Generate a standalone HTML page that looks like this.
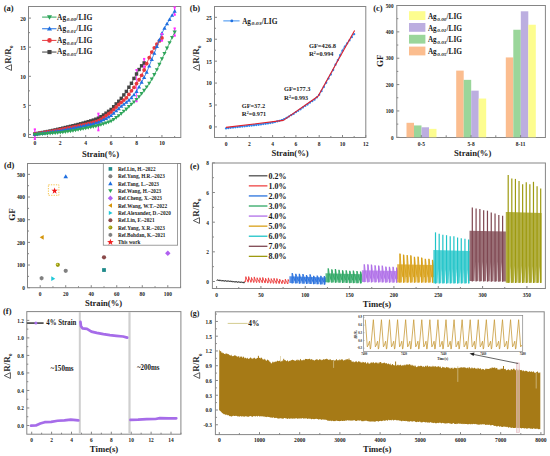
<!DOCTYPE html>
<html><head><meta charset="utf-8"><style>
html,body{margin:0;padding:0;background:#fff;}
svg{display:block;font-family:"Liberation Serif", serif;}
</style></head><body>
<svg xmlns="http://www.w3.org/2000/svg" width="550" height="456" viewBox="0 0 550 456">
<rect x="0" y="0" width="550" height="456" fill="#ffffff"/>
<rect x="28.5" y="6.5" width="152.3" height="131" fill="none" stroke="#858585" stroke-width="1" />
<line x1="28.5" y1="134.5" x2="31" y2="134.5" stroke="#858585" stroke-width="1" />
<text x="25.9" y="136.9" font-size="5.6" text-anchor="end" fill="#1a1a1a" font-weight="bold" >0</text>
<line x1="28.5" y1="105.4" x2="31" y2="105.4" stroke="#858585" stroke-width="1" />
<text x="25.9" y="107.8" font-size="5.6" text-anchor="end" fill="#1a1a1a" font-weight="bold" >5</text>
<line x1="28.5" y1="76.3" x2="31" y2="76.3" stroke="#858585" stroke-width="1" />
<text x="25.9" y="78.7" font-size="5.6" text-anchor="end" fill="#1a1a1a" font-weight="bold" >10</text>
<line x1="28.5" y1="47.2" x2="31" y2="47.2" stroke="#858585" stroke-width="1" />
<text x="25.9" y="49.6" font-size="5.6" text-anchor="end" fill="#1a1a1a" font-weight="bold" >15</text>
<line x1="28.5" y1="18.1" x2="31" y2="18.1" stroke="#858585" stroke-width="1" />
<text x="25.9" y="20.5" font-size="5.6" text-anchor="end" fill="#1a1a1a" font-weight="bold" >20</text>
<line x1="28.5" y1="119.95" x2="30" y2="119.95" stroke="#858585" stroke-width="1" />
<line x1="28.5" y1="90.85" x2="30" y2="90.85" stroke="#858585" stroke-width="1" />
<line x1="28.5" y1="61.75" x2="30" y2="61.75" stroke="#858585" stroke-width="1" />
<line x1="28.5" y1="32.65" x2="30" y2="32.65" stroke="#858585" stroke-width="1" />
<line x1="34.85" y1="137.5" x2="34.85" y2="135" stroke="#858585" stroke-width="1" />
<text x="34.85" y="145.2" font-size="5.6" text-anchor="middle" fill="#1a1a1a" font-weight="bold" >0</text>
<line x1="60.27" y1="137.5" x2="60.27" y2="135" stroke="#858585" stroke-width="1" />
<text x="60.27" y="145.2" font-size="5.6" text-anchor="middle" fill="#1a1a1a" font-weight="bold" >2</text>
<line x1="85.69" y1="137.5" x2="85.69" y2="135" stroke="#858585" stroke-width="1" />
<text x="85.69" y="145.2" font-size="5.6" text-anchor="middle" fill="#1a1a1a" font-weight="bold" >4</text>
<line x1="111.11" y1="137.5" x2="111.11" y2="135" stroke="#858585" stroke-width="1" />
<text x="111.11" y="145.2" font-size="5.6" text-anchor="middle" fill="#1a1a1a" font-weight="bold" >6</text>
<line x1="136.53" y1="137.5" x2="136.53" y2="135" stroke="#858585" stroke-width="1" />
<text x="136.53" y="145.2" font-size="5.6" text-anchor="middle" fill="#1a1a1a" font-weight="bold" >8</text>
<line x1="161.95" y1="137.5" x2="161.95" y2="135" stroke="#858585" stroke-width="1" />
<text x="161.95" y="145.2" font-size="5.6" text-anchor="middle" fill="#1a1a1a" font-weight="bold" >10</text>
<line x1="47.56" y1="137.5" x2="47.56" y2="136" stroke="#858585" stroke-width="1" />
<line x1="72.98" y1="137.5" x2="72.98" y2="136" stroke="#858585" stroke-width="1" />
<line x1="98.4" y1="137.5" x2="98.4" y2="136" stroke="#858585" stroke-width="1" />
<line x1="123.82" y1="137.5" x2="123.82" y2="136" stroke="#858585" stroke-width="1" />
<line x1="149.24" y1="137.5" x2="149.24" y2="136" stroke="#858585" stroke-width="1" />
<line x1="174.66" y1="137.5" x2="174.66" y2="136" stroke="#858585" stroke-width="1" />
<text x="3.7" y="10.8" font-size="8.5" text-anchor="start" fill="#1a1a1a" font-weight="bold" >(a)</text>
<g transform="translate(11,58) rotate(-90)"><polygon points="-12.45,0.5 -6.65,0.5 -9.55,-5.6" fill="none" stroke="#333" stroke-width="0.8"/><text x="-5.65" y="0" font-size="7.9" font-weight="bold" fill="#1a1a1a" textLength="15.4" lengthAdjust="spacingAndGlyphs">R/R</text><text x="9.95" y="2.3" font-size="4.9" font-weight="bold" fill="#1a1a1a">0</text></g>
<text x="100.5" y="157.2" font-size="8.6" text-anchor="middle" fill="#1a1a1a" font-weight="bold" >Strain(%)</text>
<line x1="34.85" y1="139.16" x2="34.85" y2="129.26" stroke="#ff30ff" stroke-width="1.3" />
<line x1="98.4" y1="130.43" x2="98.4" y2="113.55" stroke="#ff30ff" stroke-width="1.3" />
<line x1="136.53" y1="101.33" x2="136.53" y2="69.9" stroke="#ff30ff" stroke-width="0.8" />
<line x1="144.16" y1="66.99" x2="144.16" y2="58.84" stroke="#ff30ff" stroke-width="1.3" />
<line x1="161.95" y1="40.8" x2="161.95" y2="33.81" stroke="#ff30ff" stroke-width="1.3" />
<line x1="174.66" y1="14.9" x2="174.66" y2="7.33" stroke="#ff30ff" stroke-width="1.3" />
<line x1="174.66" y1="35.85" x2="174.66" y2="28.28" stroke="#ff30ff" stroke-width="1.3" />
<path d="M34.85,133.92 L37.39,133.44 L39.93,132.97 L42.48,132.5 L45.02,132.02 L47.56,131.53 L50.1,131.01 L52.64,130.47 L55.19,129.91 L57.73,129.33 L60.27,128.74 L62.81,128.14 L65.35,127.52 L67.9,126.93 L70.44,126.34 L72.98,125.74 L75.52,125.12 L78.06,124.47 L80.61,123.8 L83.15,123.09 L85.69,122.38 L88.23,121.67 L90.77,120.92 L93.32,120.11 L95.86,119.21 L98.4,118.2 L100.94,116.69 L103.48,114.99 L106.03,113.18 L108.57,111.31 L111.11,109.47 L113.65,106.74 L116.19,103.9 L118.74,101.28 L121.28,98.35 L123.82,94.92 L126.36,91.43 L128.9,87.23 L131.45,83.28 L133.99,78.41 L136.53,73.97 L139.07,69.53 L141.61,65.82 L144.16,62.96" stroke="#444444" stroke-width="0.8" fill="none" stroke-linejoin="round" />
<rect x="33.14" y="132.21" width="3.42" height="3.42" fill="#444444" stroke="none" stroke-width="1" />
<rect x="35.68" y="131.73" width="3.42" height="3.42" fill="#444444" stroke="none" stroke-width="1" />
<rect x="38.22" y="131.26" width="3.42" height="3.42" fill="#444444" stroke="none" stroke-width="1" />
<rect x="40.77" y="130.79" width="3.42" height="3.42" fill="#444444" stroke="none" stroke-width="1" />
<rect x="43.31" y="130.31" width="3.42" height="3.42" fill="#444444" stroke="none" stroke-width="1" />
<rect x="45.85" y="129.82" width="3.42" height="3.42" fill="#444444" stroke="none" stroke-width="1" />
<rect x="48.39" y="129.3" width="3.42" height="3.42" fill="#444444" stroke="none" stroke-width="1" />
<rect x="50.93" y="128.76" width="3.42" height="3.42" fill="#444444" stroke="none" stroke-width="1" />
<rect x="53.48" y="128.2" width="3.42" height="3.42" fill="#444444" stroke="none" stroke-width="1" />
<rect x="56.02" y="127.62" width="3.42" height="3.42" fill="#444444" stroke="none" stroke-width="1" />
<rect x="58.56" y="127.03" width="3.42" height="3.42" fill="#444444" stroke="none" stroke-width="1" />
<rect x="61.1" y="126.43" width="3.42" height="3.42" fill="#444444" stroke="none" stroke-width="1" />
<rect x="63.64" y="125.81" width="3.42" height="3.42" fill="#444444" stroke="none" stroke-width="1" />
<rect x="66.19" y="125.22" width="3.42" height="3.42" fill="#444444" stroke="none" stroke-width="1" />
<rect x="68.73" y="124.63" width="3.42" height="3.42" fill="#444444" stroke="none" stroke-width="1" />
<rect x="71.27" y="124.03" width="3.42" height="3.42" fill="#444444" stroke="none" stroke-width="1" />
<rect x="73.81" y="123.41" width="3.42" height="3.42" fill="#444444" stroke="none" stroke-width="1" />
<rect x="76.35" y="122.76" width="3.42" height="3.42" fill="#444444" stroke="none" stroke-width="1" />
<rect x="78.9" y="122.09" width="3.42" height="3.42" fill="#444444" stroke="none" stroke-width="1" />
<rect x="81.44" y="121.38" width="3.42" height="3.42" fill="#444444" stroke="none" stroke-width="1" />
<rect x="83.98" y="120.67" width="3.42" height="3.42" fill="#444444" stroke="none" stroke-width="1" />
<rect x="86.52" y="119.96" width="3.42" height="3.42" fill="#444444" stroke="none" stroke-width="1" />
<rect x="89.06" y="119.21" width="3.42" height="3.42" fill="#444444" stroke="none" stroke-width="1" />
<rect x="91.61" y="118.4" width="3.42" height="3.42" fill="#444444" stroke="none" stroke-width="1" />
<rect x="94.15" y="117.5" width="3.42" height="3.42" fill="#444444" stroke="none" stroke-width="1" />
<rect x="96.69" y="116.49" width="3.42" height="3.42" fill="#444444" stroke="none" stroke-width="1" />
<rect x="99.23" y="114.98" width="3.42" height="3.42" fill="#444444" stroke="none" stroke-width="1" />
<rect x="101.77" y="113.28" width="3.42" height="3.42" fill="#444444" stroke="none" stroke-width="1" />
<rect x="104.32" y="111.47" width="3.42" height="3.42" fill="#444444" stroke="none" stroke-width="1" />
<rect x="106.86" y="109.6" width="3.42" height="3.42" fill="#444444" stroke="none" stroke-width="1" />
<rect x="109.4" y="107.76" width="3.42" height="3.42" fill="#444444" stroke="none" stroke-width="1" />
<rect x="111.94" y="105.03" width="3.42" height="3.42" fill="#444444" stroke="none" stroke-width="1" />
<rect x="114.48" y="102.19" width="3.42" height="3.42" fill="#444444" stroke="none" stroke-width="1" />
<rect x="117.03" y="99.57" width="3.42" height="3.42" fill="#444444" stroke="none" stroke-width="1" />
<rect x="119.57" y="96.64" width="3.42" height="3.42" fill="#444444" stroke="none" stroke-width="1" />
<rect x="122.11" y="93.21" width="3.42" height="3.42" fill="#444444" stroke="none" stroke-width="1" />
<rect x="124.65" y="89.72" width="3.42" height="3.42" fill="#444444" stroke="none" stroke-width="1" />
<rect x="127.19" y="85.52" width="3.42" height="3.42" fill="#444444" stroke="none" stroke-width="1" />
<rect x="129.74" y="81.57" width="3.42" height="3.42" fill="#444444" stroke="none" stroke-width="1" />
<rect x="132.28" y="76.7" width="3.42" height="3.42" fill="#444444" stroke="none" stroke-width="1" />
<rect x="134.82" y="72.26" width="3.42" height="3.42" fill="#444444" stroke="none" stroke-width="1" />
<rect x="137.36" y="67.82" width="3.42" height="3.42" fill="#444444" stroke="none" stroke-width="1" />
<rect x="139.9" y="64.11" width="3.42" height="3.42" fill="#444444" stroke="none" stroke-width="1" />
<rect x="142.45" y="61.25" width="3.42" height="3.42" fill="#444444" stroke="none" stroke-width="1" />
<path d="M34.85,133.92 L37.39,133.54 L39.93,133.16 L42.48,132.79 L45.02,132.41 L47.56,132.01 L50.1,131.59 L52.64,131.15 L55.19,130.68 L57.73,130.21 L60.27,129.71 L62.81,129.21 L65.35,128.68 L67.9,128.18 L70.44,127.68 L72.98,127.16 L75.52,126.62 L78.06,126.07 L80.61,125.49 L83.15,124.89 L85.69,124.33 L88.23,123.77 L90.77,123.18 L93.32,122.52 L95.86,121.74 L98.4,120.82 L100.94,119.35 L103.48,117.63 L106.03,115.77 L108.57,113.89 L111.11,112.09 L113.65,109.58 L116.19,107.07 L118.74,104.72 L121.28,102.34 L123.82,100.12 L126.36,97.83 L128.9,94.43 L131.45,90.85 L133.99,87.45 L136.53,83.57 L139.07,79.73 L141.61,75.3 L144.16,69.98 L146.7,63.56 L149.24,57.68 L151.78,52.11 L154.32,47.78 L156.87,44.07 L159.41,40.95 L161.95,37.89" stroke="#e8383d" stroke-width="0.8" fill="none" stroke-linejoin="round" />
<circle cx="34.85" cy="133.92" r="1.9" fill="#e8383d"/>
<circle cx="37.39" cy="133.54" r="1.9" fill="#e8383d"/>
<circle cx="39.93" cy="133.16" r="1.9" fill="#e8383d"/>
<circle cx="42.48" cy="132.79" r="1.9" fill="#e8383d"/>
<circle cx="45.02" cy="132.41" r="1.9" fill="#e8383d"/>
<circle cx="47.56" cy="132.01" r="1.9" fill="#e8383d"/>
<circle cx="50.1" cy="131.59" r="1.9" fill="#e8383d"/>
<circle cx="52.64" cy="131.15" r="1.9" fill="#e8383d"/>
<circle cx="55.19" cy="130.68" r="1.9" fill="#e8383d"/>
<circle cx="57.73" cy="130.21" r="1.9" fill="#e8383d"/>
<circle cx="60.27" cy="129.71" r="1.9" fill="#e8383d"/>
<circle cx="62.81" cy="129.21" r="1.9" fill="#e8383d"/>
<circle cx="65.35" cy="128.68" r="1.9" fill="#e8383d"/>
<circle cx="67.9" cy="128.18" r="1.9" fill="#e8383d"/>
<circle cx="70.44" cy="127.68" r="1.9" fill="#e8383d"/>
<circle cx="72.98" cy="127.16" r="1.9" fill="#e8383d"/>
<circle cx="75.52" cy="126.62" r="1.9" fill="#e8383d"/>
<circle cx="78.06" cy="126.07" r="1.9" fill="#e8383d"/>
<circle cx="80.61" cy="125.49" r="1.9" fill="#e8383d"/>
<circle cx="83.15" cy="124.89" r="1.9" fill="#e8383d"/>
<circle cx="85.69" cy="124.33" r="1.9" fill="#e8383d"/>
<circle cx="88.23" cy="123.77" r="1.9" fill="#e8383d"/>
<circle cx="90.77" cy="123.18" r="1.9" fill="#e8383d"/>
<circle cx="93.32" cy="122.52" r="1.9" fill="#e8383d"/>
<circle cx="95.86" cy="121.74" r="1.9" fill="#e8383d"/>
<circle cx="98.4" cy="120.82" r="1.9" fill="#e8383d"/>
<circle cx="100.94" cy="119.35" r="1.9" fill="#e8383d"/>
<circle cx="103.48" cy="117.63" r="1.9" fill="#e8383d"/>
<circle cx="106.03" cy="115.77" r="1.9" fill="#e8383d"/>
<circle cx="108.57" cy="113.89" r="1.9" fill="#e8383d"/>
<circle cx="111.11" cy="112.09" r="1.9" fill="#e8383d"/>
<circle cx="113.65" cy="109.58" r="1.9" fill="#e8383d"/>
<circle cx="116.19" cy="107.07" r="1.9" fill="#e8383d"/>
<circle cx="118.74" cy="104.72" r="1.9" fill="#e8383d"/>
<circle cx="121.28" cy="102.34" r="1.9" fill="#e8383d"/>
<circle cx="123.82" cy="100.12" r="1.9" fill="#e8383d"/>
<circle cx="126.36" cy="97.83" r="1.9" fill="#e8383d"/>
<circle cx="128.9" cy="94.43" r="1.9" fill="#e8383d"/>
<circle cx="131.45" cy="90.85" r="1.9" fill="#e8383d"/>
<circle cx="133.99" cy="87.45" r="1.9" fill="#e8383d"/>
<circle cx="136.53" cy="83.57" r="1.9" fill="#e8383d"/>
<circle cx="139.07" cy="79.73" r="1.9" fill="#e8383d"/>
<circle cx="141.61" cy="75.3" r="1.9" fill="#e8383d"/>
<circle cx="144.16" cy="69.98" r="1.9" fill="#e8383d"/>
<circle cx="146.7" cy="63.56" r="1.9" fill="#e8383d"/>
<circle cx="149.24" cy="57.68" r="1.9" fill="#e8383d"/>
<circle cx="151.78" cy="52.11" r="1.9" fill="#e8383d"/>
<circle cx="154.32" cy="47.78" r="1.9" fill="#e8383d"/>
<circle cx="156.87" cy="44.07" r="1.9" fill="#e8383d"/>
<circle cx="159.41" cy="40.95" r="1.9" fill="#e8383d"/>
<circle cx="161.95" cy="37.89" r="1.9" fill="#e8383d"/>
<path d="M34.85,134.21 L37.39,133.87 L39.93,133.54 L42.48,133.21 L45.02,132.87 L47.56,132.53 L50.1,132.17 L52.64,131.81 L55.19,131.46 L57.73,131.1 L60.27,130.72 L62.81,130.3 L65.35,129.84 L67.9,129.38 L70.44,128.87 L72.98,128.34 L75.52,127.79 L78.06,127.22 L80.61,126.64 L83.15,126.06 L85.69,125.51 L88.23,124.95 L90.77,124.37 L93.32,123.74 L95.86,123.05 L98.4,122.28 L100.94,121.13 L103.48,119.85 L106.03,118.47 L108.57,117.04 L111.11,115.58 L113.65,113.3 L116.19,110.85 L118.74,108.63 L121.28,106.33 L123.82,104.24 L126.36,102.34 L128.9,100.15 L131.45,97.7 L133.99,94.76 L136.53,91.43 L139.07,87.03 L141.61,82.12 L144.16,77.36 L146.7,72.33 L149.24,66.02 L151.78,59.42 L154.32,53.24 L156.87,46.6 L159.41,39.72 L161.95,33.23 L164.49,28.18 L167.03,23.77 L169.58,19.42 L172.12,15.25 L174.66,11.12" stroke="#1f6fe0" stroke-width="0.8" fill="none" stroke-linejoin="round" />
<polygon points="32.76,135.73 36.94,135.73 34.85,132.12" fill="#1f6fe0"/>
<polygon points="35.3,135.39 39.48,135.39 37.39,131.78" fill="#1f6fe0"/>
<polygon points="37.84,135.06 42.02,135.06 39.93,131.45" fill="#1f6fe0"/>
<polygon points="40.39,134.73 44.57,134.73 42.48,131.12" fill="#1f6fe0"/>
<polygon points="42.93,134.39 47.11,134.39 45.02,130.78" fill="#1f6fe0"/>
<polygon points="45.47,134.05 49.65,134.05 47.56,130.44" fill="#1f6fe0"/>
<polygon points="48.01,133.69 52.19,133.69 50.1,130.08" fill="#1f6fe0"/>
<polygon points="50.55,133.33 54.73,133.33 52.64,129.72" fill="#1f6fe0"/>
<polygon points="53.1,132.98 57.28,132.98 55.19,129.37" fill="#1f6fe0"/>
<polygon points="55.64,132.62 59.82,132.62 57.73,129.01" fill="#1f6fe0"/>
<polygon points="58.18,132.24 62.36,132.24 60.27,128.63" fill="#1f6fe0"/>
<polygon points="60.72,131.82 64.9,131.82 62.81,128.21" fill="#1f6fe0"/>
<polygon points="63.26,131.36 67.44,131.36 65.35,127.75" fill="#1f6fe0"/>
<polygon points="65.81,130.9 69.99,130.9 67.9,127.29" fill="#1f6fe0"/>
<polygon points="68.35,130.39 72.53,130.39 70.44,126.78" fill="#1f6fe0"/>
<polygon points="70.89,129.86 75.07,129.86 72.98,126.25" fill="#1f6fe0"/>
<polygon points="73.43,129.31 77.61,129.31 75.52,125.7" fill="#1f6fe0"/>
<polygon points="75.97,128.74 80.15,128.74 78.06,125.13" fill="#1f6fe0"/>
<polygon points="78.52,128.16 82.7,128.16 80.61,124.55" fill="#1f6fe0"/>
<polygon points="81.06,127.58 85.24,127.58 83.15,123.97" fill="#1f6fe0"/>
<polygon points="83.6,127.03 87.78,127.03 85.69,123.42" fill="#1f6fe0"/>
<polygon points="86.14,126.47 90.32,126.47 88.23,122.86" fill="#1f6fe0"/>
<polygon points="88.68,125.89 92.86,125.89 90.77,122.28" fill="#1f6fe0"/>
<polygon points="91.23,125.26 95.41,125.26 93.32,121.65" fill="#1f6fe0"/>
<polygon points="93.77,124.57 97.95,124.57 95.86,120.96" fill="#1f6fe0"/>
<polygon points="96.31,123.8 100.49,123.8 98.4,120.19" fill="#1f6fe0"/>
<polygon points="98.85,122.65 103.03,122.65 100.94,119.04" fill="#1f6fe0"/>
<polygon points="101.39,121.37 105.57,121.37 103.48,117.76" fill="#1f6fe0"/>
<polygon points="103.94,119.99 108.12,119.99 106.03,116.38" fill="#1f6fe0"/>
<polygon points="106.48,118.56 110.66,118.56 108.57,114.95" fill="#1f6fe0"/>
<polygon points="109.02,117.1 113.2,117.1 111.11,113.49" fill="#1f6fe0"/>
<polygon points="111.56,114.82 115.74,114.82 113.65,111.21" fill="#1f6fe0"/>
<polygon points="114.1,112.37 118.28,112.37 116.19,108.76" fill="#1f6fe0"/>
<polygon points="116.65,110.15 120.83,110.15 118.74,106.54" fill="#1f6fe0"/>
<polygon points="119.19,107.85 123.37,107.85 121.28,104.24" fill="#1f6fe0"/>
<polygon points="121.73,105.76 125.91,105.76 123.82,102.15" fill="#1f6fe0"/>
<polygon points="124.27,103.86 128.45,103.86 126.36,100.25" fill="#1f6fe0"/>
<polygon points="126.81,101.67 130.99,101.67 128.9,98.06" fill="#1f6fe0"/>
<polygon points="129.36,99.22 133.54,99.22 131.45,95.61" fill="#1f6fe0"/>
<polygon points="131.9,96.28 136.08,96.28 133.99,92.67" fill="#1f6fe0"/>
<polygon points="134.44,92.95 138.62,92.95 136.53,89.34" fill="#1f6fe0"/>
<polygon points="136.98,88.55 141.16,88.55 139.07,84.94" fill="#1f6fe0"/>
<polygon points="139.52,83.64 143.7,83.64 141.61,80.03" fill="#1f6fe0"/>
<polygon points="142.07,78.88 146.25,78.88 144.16,75.27" fill="#1f6fe0"/>
<polygon points="144.61,73.85 148.79,73.85 146.7,70.24" fill="#1f6fe0"/>
<polygon points="147.15,67.54 151.33,67.54 149.24,63.93" fill="#1f6fe0"/>
<polygon points="149.69,60.94 153.87,60.94 151.78,57.33" fill="#1f6fe0"/>
<polygon points="152.23,54.76 156.41,54.76 154.32,51.15" fill="#1f6fe0"/>
<polygon points="154.78,48.12 158.96,48.12 156.87,44.51" fill="#1f6fe0"/>
<polygon points="157.32,41.24 161.5,41.24 159.41,37.63" fill="#1f6fe0"/>
<polygon points="159.86,34.75 164.04,34.75 161.95,31.14" fill="#1f6fe0"/>
<polygon points="162.4,29.7 166.58,29.7 164.49,26.09" fill="#1f6fe0"/>
<polygon points="164.94,25.29 169.12,25.29 167.03,21.68" fill="#1f6fe0"/>
<polygon points="167.49,20.94 171.67,20.94 169.58,17.33" fill="#1f6fe0"/>
<polygon points="170.03,16.77 174.21,16.77 172.12,13.16" fill="#1f6fe0"/>
<polygon points="172.57,12.64 176.75,12.64 174.66,9.03" fill="#1f6fe0"/>
<path d="M34.85,134.5 L37.39,134.31 L39.93,134.12 L42.48,133.94 L45.02,133.75 L47.56,133.55 L50.1,133.34 L52.64,133.13 L55.19,132.93 L57.73,132.72 L60.27,132.48 L62.81,132.21 L65.35,131.88 L67.9,131.52 L70.44,131.11 L72.98,130.67 L75.52,130.2 L78.06,129.71 L80.61,129.22 L83.15,128.72 L85.69,128.22 L88.23,127.71 L90.77,127.18 L93.32,126.64 L95.86,126.07 L98.4,125.48 L100.94,124.69 L103.48,123.88 L106.03,123.03 L108.57,122.11 L111.11,121.11 L113.65,119.43 L116.19,117.55 L118.74,115.77 L121.28,113.64 L123.82,111.22 L126.36,109.04 L128.9,106.6 L131.45,104.26 L133.99,102.03 L136.53,99.58 L139.07,96.74 L141.61,93.63 L144.16,90.38 L146.7,87 L149.24,83.28 L151.78,79.14 L154.32,74.62 L156.87,69.7 L159.41,64.31 L161.95,58.84 L164.49,53.49 L167.03,48.13 L169.58,42.78 L172.12,37.42 L174.66,32.07" stroke="#2ea55a" stroke-width="0.8" fill="none" stroke-linejoin="round" />
<polygon points="32.76,132.98 36.94,132.98 34.85,136.59" fill="#2ea55a"/>
<polygon points="35.3,132.79 39.48,132.79 37.39,136.4" fill="#2ea55a"/>
<polygon points="37.84,132.6 42.02,132.6 39.93,136.21" fill="#2ea55a"/>
<polygon points="40.39,132.42 44.57,132.42 42.48,136.03" fill="#2ea55a"/>
<polygon points="42.93,132.23 47.11,132.23 45.02,135.84" fill="#2ea55a"/>
<polygon points="45.47,132.03 49.65,132.03 47.56,135.64" fill="#2ea55a"/>
<polygon points="48.01,131.82 52.19,131.82 50.1,135.43" fill="#2ea55a"/>
<polygon points="50.55,131.61 54.73,131.61 52.64,135.22" fill="#2ea55a"/>
<polygon points="53.1,131.41 57.28,131.41 55.19,135.02" fill="#2ea55a"/>
<polygon points="55.64,131.2 59.82,131.2 57.73,134.81" fill="#2ea55a"/>
<polygon points="58.18,130.96 62.36,130.96 60.27,134.57" fill="#2ea55a"/>
<polygon points="60.72,130.69 64.9,130.69 62.81,134.3" fill="#2ea55a"/>
<polygon points="63.26,130.36 67.44,130.36 65.35,133.97" fill="#2ea55a"/>
<polygon points="65.81,130 69.99,130 67.9,133.61" fill="#2ea55a"/>
<polygon points="68.35,129.59 72.53,129.59 70.44,133.2" fill="#2ea55a"/>
<polygon points="70.89,129.15 75.07,129.15 72.98,132.76" fill="#2ea55a"/>
<polygon points="73.43,128.68 77.61,128.68 75.52,132.29" fill="#2ea55a"/>
<polygon points="75.97,128.19 80.15,128.19 78.06,131.8" fill="#2ea55a"/>
<polygon points="78.52,127.7 82.7,127.7 80.61,131.31" fill="#2ea55a"/>
<polygon points="81.06,127.2 85.24,127.2 83.15,130.81" fill="#2ea55a"/>
<polygon points="83.6,126.7 87.78,126.7 85.69,130.31" fill="#2ea55a"/>
<polygon points="86.14,126.19 90.32,126.19 88.23,129.8" fill="#2ea55a"/>
<polygon points="88.68,125.66 92.86,125.66 90.77,129.27" fill="#2ea55a"/>
<polygon points="91.23,125.12 95.41,125.12 93.32,128.73" fill="#2ea55a"/>
<polygon points="93.77,124.55 97.95,124.55 95.86,128.16" fill="#2ea55a"/>
<polygon points="96.31,123.96 100.49,123.96 98.4,127.57" fill="#2ea55a"/>
<polygon points="98.85,123.17 103.03,123.17 100.94,126.78" fill="#2ea55a"/>
<polygon points="101.39,122.36 105.57,122.36 103.48,125.97" fill="#2ea55a"/>
<polygon points="103.94,121.51 108.12,121.51 106.03,125.12" fill="#2ea55a"/>
<polygon points="106.48,120.59 110.66,120.59 108.57,124.2" fill="#2ea55a"/>
<polygon points="109.02,119.59 113.2,119.59 111.11,123.2" fill="#2ea55a"/>
<polygon points="111.56,117.91 115.74,117.91 113.65,121.52" fill="#2ea55a"/>
<polygon points="114.1,116.03 118.28,116.03 116.19,119.64" fill="#2ea55a"/>
<polygon points="116.65,114.25 120.83,114.25 118.74,117.86" fill="#2ea55a"/>
<polygon points="119.19,112.12 123.37,112.12 121.28,115.73" fill="#2ea55a"/>
<polygon points="121.73,109.7 125.91,109.7 123.82,113.31" fill="#2ea55a"/>
<polygon points="124.27,107.52 128.45,107.52 126.36,111.13" fill="#2ea55a"/>
<polygon points="126.81,105.08 130.99,105.08 128.9,108.69" fill="#2ea55a"/>
<polygon points="129.36,102.74 133.54,102.74 131.45,106.35" fill="#2ea55a"/>
<polygon points="131.9,100.51 136.08,100.51 133.99,104.12" fill="#2ea55a"/>
<polygon points="134.44,98.06 138.62,98.06 136.53,101.67" fill="#2ea55a"/>
<polygon points="136.98,95.22 141.16,95.22 139.07,98.83" fill="#2ea55a"/>
<polygon points="139.52,92.11 143.7,92.11 141.61,95.72" fill="#2ea55a"/>
<polygon points="142.07,88.86 146.25,88.86 144.16,92.47" fill="#2ea55a"/>
<polygon points="144.61,85.48 148.79,85.48 146.7,89.09" fill="#2ea55a"/>
<polygon points="147.15,81.76 151.33,81.76 149.24,85.37" fill="#2ea55a"/>
<polygon points="149.69,77.62 153.87,77.62 151.78,81.23" fill="#2ea55a"/>
<polygon points="152.23,73.1 156.41,73.1 154.32,76.71" fill="#2ea55a"/>
<polygon points="154.78,68.18 158.96,68.18 156.87,71.79" fill="#2ea55a"/>
<polygon points="157.32,62.79 161.5,62.79 159.41,66.4" fill="#2ea55a"/>
<polygon points="159.86,57.32 164.04,57.32 161.95,60.93" fill="#2ea55a"/>
<polygon points="162.4,51.97 166.58,51.97 164.49,55.58" fill="#2ea55a"/>
<polygon points="164.94,46.61 169.12,46.61 167.03,50.22" fill="#2ea55a"/>
<polygon points="167.49,41.26 171.67,41.26 169.58,44.87" fill="#2ea55a"/>
<polygon points="170.03,35.9 174.21,35.9 172.12,39.51" fill="#2ea55a"/>
<polygon points="172.57,30.55 176.75,30.55 174.66,34.16" fill="#2ea55a"/>
<rect x="33.75" y="138.26" width="2.2" height="1.8" fill="#ff30ff" stroke="none" stroke-width="1" />
<rect x="33.75" y="128.36" width="2.2" height="1.8" fill="#ff30ff" stroke="none" stroke-width="1" />
<rect x="97.3" y="129.53" width="2.2" height="1.8" fill="#ff30ff" stroke="none" stroke-width="1" />
<rect x="97.3" y="112.65" width="2.2" height="1.8" fill="#ff30ff" stroke="none" stroke-width="1" />
<rect x="135.43" y="100.43" width="2.2" height="1.8" fill="#ff30ff" stroke="none" stroke-width="1" />
<rect x="135.43" y="69" width="2.2" height="1.8" fill="#ff30ff" stroke="none" stroke-width="1" />
<rect x="143.06" y="66.09" width="2.2" height="1.8" fill="#ff30ff" stroke="none" stroke-width="1" />
<rect x="143.06" y="57.94" width="2.2" height="1.8" fill="#ff30ff" stroke="none" stroke-width="1" />
<rect x="160.85" y="39.9" width="2.2" height="1.8" fill="#ff30ff" stroke="none" stroke-width="1" />
<rect x="160.85" y="32.91" width="2.2" height="1.8" fill="#ff30ff" stroke="none" stroke-width="1" />
<rect x="173.56" y="14" width="2.2" height="1.8" fill="#ff30ff" stroke="none" stroke-width="1" />
<rect x="173.56" y="6.43" width="2.2" height="1.8" fill="#ff30ff" stroke="none" stroke-width="1" />
<rect x="173.56" y="34.95" width="2.2" height="1.8" fill="#ff30ff" stroke="none" stroke-width="1" />
<rect x="173.56" y="27.38" width="2.2" height="1.8" fill="#ff30ff" stroke="none" stroke-width="1" />
<line x1="42.1" y1="17.1" x2="56.5" y2="17.1" stroke="#2ea55a" stroke-width="1" />
<polygon points="46.97,15.26 52.03,15.26 49.5,19.63" fill="#2ea55a"/>
<text x="57.1" y="19.5" font-size="7.7" text-anchor="start" fill="#1a1a1a" font-weight="bold" textLength="9" lengthAdjust="spacingAndGlyphs" >Ag</text>
<text x="66.8" y="21.3" font-size="4.8" text-anchor="start" fill="#1a1a1a" font-weight="bold" textLength="9.3" lengthAdjust="spacingAndGlyphs" font-style="italic">0.00</text>
<text x="76.3" y="19.5" font-size="7.7" text-anchor="start" fill="#1a1a1a" font-weight="bold" textLength="16" lengthAdjust="spacingAndGlyphs" >/LIG</text>
<line x1="42.1" y1="28.75" x2="56.5" y2="28.75" stroke="#1f6fe0" stroke-width="1" />
<polygon points="46.97,30.59 52.03,30.59 49.5,26.22" fill="#1f6fe0"/>
<text x="57.1" y="31.15" font-size="7.7" text-anchor="start" fill="#1a1a1a" font-weight="bold" textLength="9" lengthAdjust="spacingAndGlyphs" >Ag</text>
<text x="66.8" y="32.95" font-size="4.8" text-anchor="start" fill="#1a1a1a" font-weight="bold" textLength="9.3" lengthAdjust="spacingAndGlyphs" font-style="italic">0.01</text>
<text x="76.3" y="31.15" font-size="7.7" text-anchor="start" fill="#1a1a1a" font-weight="bold" textLength="16" lengthAdjust="spacingAndGlyphs" >/LIG</text>
<line x1="42.1" y1="40.4" x2="56.5" y2="40.4" stroke="#e8383d" stroke-width="1" />
<circle cx="49.5" cy="40.4" r="2.3" fill="#e8383d"/>
<text x="57.1" y="42.8" font-size="7.7" text-anchor="start" fill="#1a1a1a" font-weight="bold" textLength="9" lengthAdjust="spacingAndGlyphs" >Ag</text>
<text x="66.8" y="44.6" font-size="4.8" text-anchor="start" fill="#1a1a1a" font-weight="bold" textLength="9.3" lengthAdjust="spacingAndGlyphs" font-style="italic">0.03</text>
<text x="76.3" y="42.8" font-size="7.7" text-anchor="start" fill="#1a1a1a" font-weight="bold" textLength="16" lengthAdjust="spacingAndGlyphs" >/LIG</text>
<line x1="42.1" y1="52.05" x2="56.5" y2="52.05" stroke="#444444" stroke-width="1" />
<rect x="47.43" y="49.98" width="4.14" height="4.14" fill="#444444" stroke="none" stroke-width="1" />
<text x="57.1" y="54.45" font-size="7.7" text-anchor="start" fill="#1a1a1a" font-weight="bold" textLength="9" lengthAdjust="spacingAndGlyphs" >Ag</text>
<text x="66.8" y="56.25" font-size="4.8" text-anchor="start" fill="#1a1a1a" font-weight="bold" textLength="9.3" lengthAdjust="spacingAndGlyphs" font-style="italic">0.05</text>
<text x="76.3" y="54.45" font-size="7.7" text-anchor="start" fill="#1a1a1a" font-weight="bold" textLength="16" lengthAdjust="spacingAndGlyphs" >/LIG</text>
<rect x="214.5" y="6.5" width="151.3" height="131" fill="none" stroke="#858585" stroke-width="1" />
<line x1="214.5" y1="126.9" x2="217" y2="126.9" stroke="#858585" stroke-width="1" />
<text x="211.7" y="129.27" font-size="5.5" text-anchor="end" fill="#1a1a1a" font-weight="bold" >0</text>
<line x1="214.5" y1="104.99" x2="217" y2="104.99" stroke="#858585" stroke-width="1" />
<text x="211.7" y="107.36" font-size="5.5" text-anchor="end" fill="#1a1a1a" font-weight="bold" >5</text>
<line x1="214.5" y1="83.07" x2="217" y2="83.07" stroke="#858585" stroke-width="1" />
<text x="211.7" y="85.44" font-size="5.5" text-anchor="end" fill="#1a1a1a" font-weight="bold" >10</text>
<line x1="214.5" y1="61.16" x2="217" y2="61.16" stroke="#858585" stroke-width="1" />
<text x="211.7" y="63.52" font-size="5.5" text-anchor="end" fill="#1a1a1a" font-weight="bold" >15</text>
<line x1="214.5" y1="39.24" x2="217" y2="39.24" stroke="#858585" stroke-width="1" />
<text x="211.7" y="41.61" font-size="5.5" text-anchor="end" fill="#1a1a1a" font-weight="bold" >20</text>
<line x1="214.5" y1="17.33" x2="217" y2="17.33" stroke="#858585" stroke-width="1" />
<text x="211.7" y="19.7" font-size="5.5" text-anchor="end" fill="#1a1a1a" font-weight="bold" >25</text>
<line x1="214.5" y1="115.94" x2="216" y2="115.94" stroke="#858585" stroke-width="1" />
<line x1="214.5" y1="94.03" x2="216" y2="94.03" stroke="#858585" stroke-width="1" />
<line x1="214.5" y1="72.11" x2="216" y2="72.11" stroke="#858585" stroke-width="1" />
<line x1="214.5" y1="50.2" x2="216" y2="50.2" stroke="#858585" stroke-width="1" />
<line x1="214.5" y1="28.28" x2="216" y2="28.28" stroke="#858585" stroke-width="1" />
<line x1="226" y1="137.5" x2="226" y2="135" stroke="#858585" stroke-width="1" />
<text x="226" y="146" font-size="5.5" text-anchor="middle" fill="#1a1a1a" font-weight="bold" >0</text>
<line x1="249.3" y1="137.5" x2="249.3" y2="135" stroke="#858585" stroke-width="1" />
<text x="249.3" y="146" font-size="5.5" text-anchor="middle" fill="#1a1a1a" font-weight="bold" >2</text>
<line x1="272.6" y1="137.5" x2="272.6" y2="135" stroke="#858585" stroke-width="1" />
<text x="272.6" y="146" font-size="5.5" text-anchor="middle" fill="#1a1a1a" font-weight="bold" >4</text>
<line x1="295.9" y1="137.5" x2="295.9" y2="135" stroke="#858585" stroke-width="1" />
<text x="295.9" y="146" font-size="5.5" text-anchor="middle" fill="#1a1a1a" font-weight="bold" >6</text>
<line x1="319.2" y1="137.5" x2="319.2" y2="135" stroke="#858585" stroke-width="1" />
<text x="319.2" y="146" font-size="5.5" text-anchor="middle" fill="#1a1a1a" font-weight="bold" >8</text>
<line x1="342.5" y1="137.5" x2="342.5" y2="135" stroke="#858585" stroke-width="1" />
<text x="342.5" y="146" font-size="5.5" text-anchor="middle" fill="#1a1a1a" font-weight="bold" >10</text>
<line x1="365.8" y1="137.5" x2="365.8" y2="135" stroke="#858585" stroke-width="1" />
<text x="365.8" y="146" font-size="5.5" text-anchor="middle" fill="#1a1a1a" font-weight="bold" >12</text>
<line x1="237.65" y1="137.5" x2="237.65" y2="136" stroke="#858585" stroke-width="1" />
<line x1="260.95" y1="137.5" x2="260.95" y2="136" stroke="#858585" stroke-width="1" />
<line x1="284.25" y1="137.5" x2="284.25" y2="136" stroke="#858585" stroke-width="1" />
<line x1="307.55" y1="137.5" x2="307.55" y2="136" stroke="#858585" stroke-width="1" />
<line x1="330.85" y1="137.5" x2="330.85" y2="136" stroke="#858585" stroke-width="1" />
<line x1="354.15" y1="137.5" x2="354.15" y2="136" stroke="#858585" stroke-width="1" />
<text x="189.8" y="10.8" font-size="8.5" text-anchor="start" fill="#1a1a1a" font-weight="bold" >(b)</text>
<g transform="translate(198.9,58) rotate(-90)"><polygon points="-12.45,0.5 -6.65,0.5 -9.55,-5.6" fill="none" stroke="#333" stroke-width="0.8"/><text x="-5.65" y="0" font-size="7.9" font-weight="bold" fill="#1a1a1a" textLength="15.4" lengthAdjust="spacingAndGlyphs">R/R</text><text x="9.95" y="2.3" font-size="4.9" font-weight="bold" fill="#1a1a1a">0</text></g>
<text x="290" y="156" font-size="8.6" text-anchor="middle" fill="#1a1a1a" font-weight="bold" >Strain(%)</text>
<path d="M226,128 L227.16,127.86 L228.33,127.73 L229.5,127.6 L230.66,127.47 L231.82,127.34 L232.99,127.21 L234.16,127.08 L235.32,126.94 L236.49,126.81 L237.65,126.68 L238.81,126.55 L239.98,126.42 L241.15,126.29 L242.31,126.15 L243.47,126.02 L244.64,125.89 L245.81,125.76 L246.97,125.63 L248.14,125.5 L249.3,125.37 L250.47,125.24 L251.63,125.11 L252.8,124.99 L253.96,124.86 L255.12,124.74 L256.29,124.61 L257.46,124.48 L258.62,124.34 L259.79,124.2 L260.95,124.05 L262.12,123.89 L263.28,123.72 L264.45,123.55 L265.61,123.37 L266.78,123.19 L267.94,123 L269.11,122.82 L270.27,122.64 L271.44,122.47 L272.6,122.3 L273.76,121.98 L274.93,121.67 L276.1,121.37 L277.26,121.07 L278.43,120.76 L279.59,120.43 L280.75,120.13 L281.92,119.77 L283.08,119.23 L284.25,118.74 L285.41,118.15 L286.58,117.5 L287.74,116.83 L288.91,116.15 L290.07,115.5 L291.24,114.82 L292.4,114.2 L293.57,113.55 L294.73,112.78 L295.9,111.78 L297.06,111.16 L298.23,110.45 L299.39,109.68 L300.56,108.86 L301.72,108.01 L302.89,107.16 L304.05,106.32 L305.22,105.52 L306.38,104.78 L307.55,104.11 L308.71,103.14 L309.88,102.29 L311.04,101.52 L312.21,100.79 L313.37,100.06 L314.54,99.29 L315.7,98.15 L316.87,97.07 L318.03,95.89 L319.2,94.47 L320.36,92.75 L321.53,90.82 L322.69,88.74 L323.86,86.58 L325.02,84.55 L326.19,82.35 L327.35,80.14 L328.52,78.13 L329.68,76.07 L330.85,74.16 L332.01,71.92 L333.18,69.61 L334.34,66.91 L335.51,64.34 L336.67,61.86 L337.84,59.69 L339,57.36 L340.17,54.87 L341.33,52.31 L342.5,50.2 L343.66,47.86 L344.83,46.16 L345.99,44.53 L347.16,43.05 L348.32,41.55 L349.49,40.02 L350.65,38.48 L351.82,36.8 L352.98,35.3 L354.15,33.79" stroke="#3a8ef0" stroke-width="0.9" fill="none" stroke-linejoin="round" />
<circle cx="226" cy="128.4" r="1.15" fill="#2f84ec"/>
<circle cx="228.33" cy="128.13" r="1.15" fill="#2f84ec"/>
<circle cx="230.66" cy="127.87" r="1.15" fill="#2f84ec"/>
<circle cx="232.99" cy="127.61" r="1.15" fill="#2f84ec"/>
<circle cx="235.32" cy="127.34" r="1.15" fill="#2f84ec"/>
<circle cx="237.65" cy="127.08" r="1.15" fill="#2f84ec"/>
<circle cx="239.98" cy="126.82" r="1.15" fill="#2f84ec"/>
<circle cx="242.31" cy="126.55" r="1.15" fill="#2f84ec"/>
<circle cx="244.64" cy="126.29" r="1.15" fill="#2f84ec"/>
<circle cx="246.97" cy="126.03" r="1.15" fill="#2f84ec"/>
<circle cx="249.3" cy="125.77" r="1.15" fill="#2f84ec"/>
<circle cx="251.63" cy="125.51" r="1.15" fill="#2f84ec"/>
<circle cx="253.96" cy="125.26" r="1.15" fill="#2f84ec"/>
<circle cx="256.29" cy="125.01" r="1.15" fill="#2f84ec"/>
<circle cx="258.62" cy="124.74" r="1.15" fill="#2f84ec"/>
<circle cx="260.95" cy="124.45" r="1.15" fill="#2f84ec"/>
<circle cx="263.28" cy="124.12" r="1.15" fill="#2f84ec"/>
<circle cx="265.61" cy="123.77" r="1.15" fill="#2f84ec"/>
<circle cx="267.94" cy="123.4" r="1.15" fill="#2f84ec"/>
<circle cx="270.27" cy="123.04" r="1.15" fill="#2f84ec"/>
<circle cx="272.6" cy="122.7" r="1.15" fill="#2f84ec"/>
<circle cx="274.93" cy="122.07" r="1.15" fill="#2f84ec"/>
<circle cx="277.26" cy="121.47" r="1.15" fill="#2f84ec"/>
<circle cx="279.59" cy="120.83" r="1.15" fill="#2f84ec"/>
<circle cx="281.92" cy="120.17" r="1.15" fill="#2f84ec"/>
<circle cx="284.25" cy="119.14" r="1.15" fill="#2f84ec"/>
<circle cx="286.58" cy="117.9" r="1.15" fill="#2f84ec"/>
<circle cx="288.91" cy="116.55" r="1.15" fill="#2f84ec"/>
<circle cx="291.24" cy="115.22" r="1.15" fill="#2f84ec"/>
<circle cx="293.57" cy="113.95" r="1.15" fill="#2f84ec"/>
<circle cx="295.9" cy="112.18" r="1.15" fill="#2f84ec"/>
<circle cx="298.23" cy="110.85" r="1.15" fill="#2f84ec"/>
<circle cx="300.56" cy="109.26" r="1.15" fill="#2f84ec"/>
<circle cx="302.89" cy="107.56" r="1.15" fill="#2f84ec"/>
<circle cx="305.22" cy="105.92" r="1.15" fill="#2f84ec"/>
<circle cx="307.55" cy="104.51" r="1.15" fill="#2f84ec"/>
<circle cx="309.88" cy="102.69" r="1.15" fill="#2f84ec"/>
<circle cx="312.21" cy="101.19" r="1.15" fill="#2f84ec"/>
<circle cx="314.54" cy="99.69" r="1.15" fill="#2f84ec"/>
<circle cx="316.87" cy="97.47" r="1.15" fill="#2f84ec"/>
<circle cx="319.2" cy="94.87" r="1.15" fill="#2f84ec"/>
<circle cx="321.53" cy="91.22" r="1.15" fill="#2f84ec"/>
<circle cx="323.86" cy="86.98" r="1.15" fill="#2f84ec"/>
<circle cx="326.19" cy="82.75" r="1.15" fill="#2f84ec"/>
<circle cx="328.52" cy="78.53" r="1.15" fill="#2f84ec"/>
<circle cx="330.85" cy="74.56" r="1.15" fill="#2f84ec"/>
<circle cx="333.18" cy="70.01" r="1.15" fill="#2f84ec"/>
<circle cx="335.51" cy="64.74" r="1.15" fill="#2f84ec"/>
<circle cx="337.84" cy="60.09" r="1.15" fill="#2f84ec"/>
<circle cx="340.17" cy="55.27" r="1.15" fill="#2f84ec"/>
<circle cx="342.5" cy="50.6" r="1.15" fill="#2f84ec"/>
<circle cx="344.83" cy="46.56" r="1.15" fill="#2f84ec"/>
<circle cx="347.16" cy="43.45" r="1.15" fill="#2f84ec"/>
<circle cx="349.49" cy="40.42" r="1.15" fill="#2f84ec"/>
<circle cx="351.82" cy="37.2" r="1.15" fill="#2f84ec"/>
<circle cx="354.15" cy="34.19" r="1.15" fill="#2f84ec"/>
<path d="M226,127.34 L283.32,120.41 L318.04,96.22 L354.62,30.47" stroke="#e0202a" stroke-width="1.1" fill="none" stroke-linejoin="round" />
<line x1="223.3" y1="20.9" x2="239.6" y2="20.9" stroke="#3a8ef0" stroke-width="1" />
<circle cx="231.8" cy="20.9" r="1.4" fill="#1f6fe0"/>
<text x="242.2" y="23.5" font-size="7.7" text-anchor="start" fill="#1a1a1a" font-weight="bold" textLength="8.7" lengthAdjust="spacingAndGlyphs" >Ag</text>
<text x="251.6" y="25.3" font-size="4.8" text-anchor="start" fill="#1a1a1a" font-weight="bold" textLength="10" lengthAdjust="spacingAndGlyphs" font-style="italic">0.03</text>
<text x="261.8" y="23.5" font-size="7.7" text-anchor="start" fill="#1a1a1a" font-weight="bold" textLength="15.7" lengthAdjust="spacingAndGlyphs" >/LIG</text>
<text x="241.8" y="107.6" font-size="7.0" text-anchor="start" fill="#1a1a1a" font-weight="bold" textLength="23.3" lengthAdjust="spacingAndGlyphs" >GF=37.2</text>
<text x="241.8" y="116.4" font-size="7.0" text-anchor="start" fill="#1a1a1a" font-weight="bold" textLength="4.9" lengthAdjust="spacingAndGlyphs" >R</text>
<text x="246.7" y="113.7" font-size="4.0" text-anchor="start" fill="#1a1a1a" font-weight="bold" >2</text>
<text x="248.8" y="116.4" font-size="7.0" text-anchor="start" fill="#1a1a1a" font-weight="bold" textLength="17.2" lengthAdjust="spacingAndGlyphs" >=0.971</text>
<text x="284" y="90.9" font-size="7.0" text-anchor="start" fill="#1a1a1a" font-weight="bold" textLength="26.5" lengthAdjust="spacingAndGlyphs" >GF=177.3</text>
<text x="284" y="100.4" font-size="7.0" text-anchor="start" fill="#1a1a1a" font-weight="bold" textLength="4.9" lengthAdjust="spacingAndGlyphs" >R</text>
<text x="288.9" y="97.7" font-size="4.0" text-anchor="start" fill="#1a1a1a" font-weight="bold" >2</text>
<text x="291" y="100.4" font-size="7.0" text-anchor="start" fill="#1a1a1a" font-weight="bold" textLength="17" lengthAdjust="spacingAndGlyphs" >=0.993</text>
<text x="308.9" y="47.6" font-size="7.0" text-anchor="start" fill="#1a1a1a" font-weight="bold" textLength="27.1" lengthAdjust="spacingAndGlyphs" >GF=426.8</text>
<text x="308.9" y="56.4" font-size="7.0" text-anchor="start" fill="#1a1a1a" font-weight="bold" textLength="4.9" lengthAdjust="spacingAndGlyphs" >R</text>
<text x="313.8" y="53.7" font-size="4.0" text-anchor="start" fill="#1a1a1a" font-weight="bold" >2</text>
<text x="315.9" y="56.4" font-size="7.0" text-anchor="start" fill="#1a1a1a" font-weight="bold" textLength="17.6" lengthAdjust="spacingAndGlyphs" >=0.994</text>
<rect x="396.8" y="5.5" width="148.6" height="132" fill="none" stroke="#858585" stroke-width="1" />
<line x1="396.8" y1="137.3" x2="399.3" y2="137.3" stroke="#858585" stroke-width="1" />
<text x="393.5" y="139.57" font-size="5.2" text-anchor="end" fill="#1a1a1a" font-weight="bold" >0</text>
<line x1="396.8" y1="110.94" x2="399.3" y2="110.94" stroke="#858585" stroke-width="1" />
<text x="393.5" y="113.21" font-size="5.2" text-anchor="end" fill="#1a1a1a" font-weight="bold" >100</text>
<line x1="396.8" y1="84.58" x2="399.3" y2="84.58" stroke="#858585" stroke-width="1" />
<text x="393.5" y="86.85" font-size="5.2" text-anchor="end" fill="#1a1a1a" font-weight="bold" >200</text>
<line x1="396.8" y1="58.22" x2="399.3" y2="58.22" stroke="#858585" stroke-width="1" />
<text x="393.5" y="60.49" font-size="5.2" text-anchor="end" fill="#1a1a1a" font-weight="bold" >300</text>
<line x1="396.8" y1="31.86" x2="399.3" y2="31.86" stroke="#858585" stroke-width="1" />
<text x="393.5" y="34.13" font-size="5.2" text-anchor="end" fill="#1a1a1a" font-weight="bold" >400</text>
<line x1="396.8" y1="5.5" x2="399.3" y2="5.5" stroke="#858585" stroke-width="1" />
<text x="393.5" y="7.77" font-size="5.2" text-anchor="end" fill="#1a1a1a" font-weight="bold" >500</text>
<line x1="396.8" y1="124.12" x2="398.3" y2="124.12" stroke="#858585" stroke-width="1" />
<line x1="396.8" y1="97.76" x2="398.3" y2="97.76" stroke="#858585" stroke-width="1" />
<line x1="396.8" y1="71.4" x2="398.3" y2="71.4" stroke="#858585" stroke-width="1" />
<line x1="396.8" y1="45.04" x2="398.3" y2="45.04" stroke="#858585" stroke-width="1" />
<line x1="396.8" y1="18.68" x2="398.3" y2="18.68" stroke="#858585" stroke-width="1" />
<text x="373.2" y="10.8" font-size="8.5" text-anchor="start" fill="#1a1a1a" font-weight="bold" >(c)</text>
<text transform="translate(382.6,60.8) rotate(-90)" x="0" y="0" font-size="9" font-weight="bold" text-anchor="middle" fill="#1a1a1a">GF</text>
<text x="472.7" y="156" font-size="8.6" text-anchor="middle" fill="#1a1a1a" font-weight="bold" >Strain(%)</text>
<rect x="406.5" y="122.8" width="7.5" height="14.5" fill="#fbbd8f" stroke="none" stroke-width="1" />
<rect x="414" y="125.44" width="7.5" height="11.86" fill="#9ad69a" stroke="none" stroke-width="1" />
<rect x="421.5" y="127.28" width="7.5" height="10.02" fill="#bcaee0" stroke="none" stroke-width="1" />
<rect x="429" y="128.86" width="7.5" height="8.44" fill="#fdfd8f" stroke="none" stroke-width="1" />
<line x1="421.3" y1="137.5" x2="421.3" y2="135" stroke="#858585" stroke-width="1" />
<text x="421.3" y="145.5" font-size="5.4" text-anchor="middle" fill="#1a1a1a" font-weight="bold" >0-5</text>
<rect x="456.2" y="70.61" width="7.5" height="66.69" fill="#fbbd8f" stroke="none" stroke-width="1" />
<rect x="463.7" y="79.84" width="7.5" height="57.46" fill="#9ad69a" stroke="none" stroke-width="1" />
<rect x="471.2" y="90.64" width="7.5" height="46.66" fill="#bcaee0" stroke="none" stroke-width="1" />
<rect x="478.7" y="98.55" width="7.5" height="38.75" fill="#fdfd8f" stroke="none" stroke-width="1" />
<line x1="471" y1="137.5" x2="471" y2="135" stroke="#858585" stroke-width="1" />
<text x="471" y="145.5" font-size="5.4" text-anchor="middle" fill="#1a1a1a" font-weight="bold" >5-8</text>
<rect x="505.8" y="57.43" width="7.5" height="79.87" fill="#fbbd8f" stroke="none" stroke-width="1" />
<rect x="513.3" y="29.75" width="7.5" height="107.55" fill="#9ad69a" stroke="none" stroke-width="1" />
<rect x="520.8" y="11.3" width="7.5" height="126" fill="#bcaee0" stroke="none" stroke-width="1" />
<rect x="528.3" y="24.74" width="7.5" height="112.56" fill="#fdfd8f" stroke="none" stroke-width="1" />
<line x1="520.6" y1="137.5" x2="520.6" y2="135" stroke="#858585" stroke-width="1" />
<text x="520.6" y="145.5" font-size="5.4" text-anchor="middle" fill="#1a1a1a" font-weight="bold" >8-11</text>
<line x1="446.2" y1="137.5" x2="446.2" y2="135.3" stroke="#858585" stroke-width="1" />
<line x1="495.8" y1="137.5" x2="495.8" y2="135.3" stroke="#858585" stroke-width="1" />
<rect x="409" y="11.2" width="16.4" height="8.8" fill="#fdfd8f" stroke="none" stroke-width="1" />
<text x="427.9" y="18.7" font-size="7.6" text-anchor="start" fill="#1a1a1a" font-weight="bold" textLength="8.7" lengthAdjust="spacingAndGlyphs" >Ag</text>
<text x="437.3" y="20.5" font-size="4.8" text-anchor="start" fill="#1a1a1a" font-weight="bold" textLength="9" lengthAdjust="spacingAndGlyphs" font-style="italic">0.00</text>
<text x="446.5" y="18.7" font-size="7.6" text-anchor="start" fill="#1a1a1a" font-weight="bold" textLength="15.6" lengthAdjust="spacingAndGlyphs" >/LIG</text>
<rect x="409" y="23" width="16.4" height="8.8" fill="#bcaee0" stroke="none" stroke-width="1" />
<text x="427.9" y="30.5" font-size="7.6" text-anchor="start" fill="#1a1a1a" font-weight="bold" textLength="8.7" lengthAdjust="spacingAndGlyphs" >Ag</text>
<text x="437.3" y="32.3" font-size="4.8" text-anchor="start" fill="#1a1a1a" font-weight="bold" textLength="9" lengthAdjust="spacingAndGlyphs" font-style="italic">0.01</text>
<text x="446.5" y="30.5" font-size="7.6" text-anchor="start" fill="#1a1a1a" font-weight="bold" textLength="15.6" lengthAdjust="spacingAndGlyphs" >/LIG</text>
<rect x="409" y="34.8" width="16.4" height="8.8" fill="#9ad69a" stroke="none" stroke-width="1" />
<text x="427.9" y="42.3" font-size="7.6" text-anchor="start" fill="#1a1a1a" font-weight="bold" textLength="8.7" lengthAdjust="spacingAndGlyphs" >Ag</text>
<text x="437.3" y="44.1" font-size="4.8" text-anchor="start" fill="#1a1a1a" font-weight="bold" textLength="9" lengthAdjust="spacingAndGlyphs" font-style="italic">0.03</text>
<text x="446.5" y="42.3" font-size="7.6" text-anchor="start" fill="#1a1a1a" font-weight="bold" textLength="15.6" lengthAdjust="spacingAndGlyphs" >/LIG</text>
<rect x="409" y="46.6" width="16.4" height="8.8" fill="#fbbd8f" stroke="none" stroke-width="1" />
<text x="427.9" y="54.1" font-size="7.6" text-anchor="start" fill="#1a1a1a" font-weight="bold" textLength="8.7" lengthAdjust="spacingAndGlyphs" >Ag</text>
<text x="437.3" y="55.9" font-size="4.8" text-anchor="start" fill="#1a1a1a" font-weight="bold" textLength="9" lengthAdjust="spacingAndGlyphs" font-style="italic">0.05</text>
<text x="446.5" y="54.1" font-size="7.6" text-anchor="start" fill="#1a1a1a" font-weight="bold" textLength="15.6" lengthAdjust="spacingAndGlyphs" >/LIG</text>
<rect x="27.5" y="163.5" width="153.1" height="124.2" fill="none" stroke="#858585" stroke-width="1" />
<line x1="27.5" y1="287.7" x2="30" y2="287.7" stroke="#858585" stroke-width="1" />
<text x="25" y="290.04" font-size="5.4" text-anchor="end" fill="#1a1a1a" font-weight="bold" >0</text>
<line x1="27.5" y1="265.03" x2="30" y2="265.03" stroke="#858585" stroke-width="1" />
<text x="25" y="267.37" font-size="5.4" text-anchor="end" fill="#1a1a1a" font-weight="bold" >100</text>
<line x1="27.5" y1="242.36" x2="30" y2="242.36" stroke="#858585" stroke-width="1" />
<text x="25" y="244.7" font-size="5.4" text-anchor="end" fill="#1a1a1a" font-weight="bold" >200</text>
<line x1="27.5" y1="219.69" x2="30" y2="219.69" stroke="#858585" stroke-width="1" />
<text x="25" y="222.03" font-size="5.4" text-anchor="end" fill="#1a1a1a" font-weight="bold" >300</text>
<line x1="27.5" y1="197.02" x2="30" y2="197.02" stroke="#858585" stroke-width="1" />
<text x="25" y="199.36" font-size="5.4" text-anchor="end" fill="#1a1a1a" font-weight="bold" >400</text>
<line x1="27.5" y1="174.35" x2="30" y2="174.35" stroke="#858585" stroke-width="1" />
<text x="25" y="176.69" font-size="5.4" text-anchor="end" fill="#1a1a1a" font-weight="bold" >500</text>
<line x1="27.5" y1="276.37" x2="29" y2="276.37" stroke="#858585" stroke-width="1" />
<line x1="27.5" y1="253.69" x2="29" y2="253.69" stroke="#858585" stroke-width="1" />
<line x1="27.5" y1="231.02" x2="29" y2="231.02" stroke="#858585" stroke-width="1" />
<line x1="27.5" y1="208.35" x2="29" y2="208.35" stroke="#858585" stroke-width="1" />
<line x1="27.5" y1="185.69" x2="29" y2="185.69" stroke="#858585" stroke-width="1" />
<line x1="40.2" y1="287.7" x2="40.2" y2="285.2" stroke="#858585" stroke-width="1" />
<text x="40.2" y="295.5" font-size="5.4" text-anchor="middle" fill="#1a1a1a" font-weight="bold" >0</text>
<line x1="65.72" y1="287.7" x2="65.72" y2="285.2" stroke="#858585" stroke-width="1" />
<text x="65.72" y="295.5" font-size="5.4" text-anchor="middle" fill="#1a1a1a" font-weight="bold" >20</text>
<line x1="91.24" y1="287.7" x2="91.24" y2="285.2" stroke="#858585" stroke-width="1" />
<text x="91.24" y="295.5" font-size="5.4" text-anchor="middle" fill="#1a1a1a" font-weight="bold" >40</text>
<line x1="116.76" y1="287.7" x2="116.76" y2="285.2" stroke="#858585" stroke-width="1" />
<text x="116.76" y="295.5" font-size="5.4" text-anchor="middle" fill="#1a1a1a" font-weight="bold" >60</text>
<line x1="142.28" y1="287.7" x2="142.28" y2="285.2" stroke="#858585" stroke-width="1" />
<text x="142.28" y="295.5" font-size="5.4" text-anchor="middle" fill="#1a1a1a" font-weight="bold" >80</text>
<line x1="167.8" y1="287.7" x2="167.8" y2="285.2" stroke="#858585" stroke-width="1" />
<text x="167.8" y="295.5" font-size="5.4" text-anchor="middle" fill="#1a1a1a" font-weight="bold" >100</text>
<line x1="27.44" y1="287.7" x2="27.44" y2="286.2" stroke="#858585" stroke-width="1" />
<line x1="52.96" y1="287.7" x2="52.96" y2="286.2" stroke="#858585" stroke-width="1" />
<line x1="78.48" y1="287.7" x2="78.48" y2="286.2" stroke="#858585" stroke-width="1" />
<line x1="104" y1="287.7" x2="104" y2="286.2" stroke="#858585" stroke-width="1" />
<line x1="129.52" y1="287.7" x2="129.52" y2="286.2" stroke="#858585" stroke-width="1" />
<line x1="155.04" y1="287.7" x2="155.04" y2="286.2" stroke="#858585" stroke-width="1" />
<line x1="180.56" y1="287.7" x2="180.56" y2="286.2" stroke="#858585" stroke-width="1" />
<text x="3.9" y="167.5" font-size="8.5" text-anchor="start" fill="#1a1a1a" font-weight="bold" >(d)</text>
<text transform="translate(14.6,214.6) rotate(-90)" x="0" y="0" font-size="9" font-weight="bold" text-anchor="middle" fill="#1a1a1a">GF</text>
<text x="103.5" y="306.2" font-size="8.6" text-anchor="middle" fill="#1a1a1a" font-weight="bold" >Strain(%)</text>
<rect x="102.11" y="268.13" width="3.78" height="3.78" fill="#1f8a8a" stroke="none" stroke-width="1" />
<circle cx="65.72" cy="270.81" r="2.1" fill="#808080"/>
<polygon points="63.41,178.3 68.03,178.3 65.72,174.31" fill="#1f6fe0"/>
<polygon points="43.67,235.06 43.67,239.68 39.68,237.37" fill="#d4940a"/>
<polygon points="167.8,250.51 170.53,253.24 167.8,255.97 165.07,253.24" fill="#b060f0"/>
<polygon points="51.28,276.32 51.28,280.94 55.27,278.63" fill="#20c8d8"/>
<circle cx="104" cy="257.32" r="2.1" fill="#8a4a4a"/>
<circle cx="57.81" cy="264.8" r="2.1" fill="#9a9a10"/>
<polygon points="43.51,279.28 41.6,280.38 39.69,279.28 39.69,277.08 41.6,275.97 43.51,277.08" fill="#808080"/>
<circle cx="57.21" cy="264.2" r="0.7" fill="#f0f080"/>
<rect x="48.4" y="184.8" width="10.5" height="10.5" fill="none" stroke="#f5c040" stroke-width="0.9" stroke-dasharray="1.3,1.2"/>
<polygon points="54.6,187.53 55.39,189.81 57.81,189.86 55.88,191.32 56.58,193.63 54.6,192.25 52.62,193.63 53.32,191.32 51.39,189.86 53.81,189.81" fill="#f01818"/>
<rect x="103.3" y="163.5" width="74.3" height="81.7" fill="white" stroke="#858585" stroke-width="0.8" />
<rect x="108.6" y="167.1" width="3.6" height="3.6" fill="#1f8a8a" stroke="none" stroke-width="1" />
<text x="117.9" y="171.1" font-size="5.6" text-anchor="start" fill="#1a1a1a" font-weight="bold" textLength="37.6" lengthAdjust="spacingAndGlyphs" >Ref.Lin, H.–2022</text>
<circle cx="110.4" cy="176.23" r="2" fill="#808080"/>
<text x="117.9" y="178.43" font-size="5.6" text-anchor="start" fill="#1a1a1a" font-weight="bold" textLength="47" lengthAdjust="spacingAndGlyphs" >Ref.Yang, H.R.–2023</text>
<polygon points="108.2,185.16 112.6,185.16 110.4,181.36" fill="#1f6fe0"/>
<text x="117.9" y="185.76" font-size="5.6" text-anchor="start" fill="#1a1a1a" font-weight="bold" textLength="41.1" lengthAdjust="spacingAndGlyphs" >Ref.Tang, L.–2023</text>
<polygon points="108.2,189.29 112.6,189.29 110.4,193.09" fill="#2ea55a"/>
<text x="117.9" y="193.09" font-size="5.6" text-anchor="start" fill="#1a1a1a" font-weight="bold" textLength="43.3" lengthAdjust="spacingAndGlyphs" >Ref.Wang, H.–2023</text>
<polygon points="110.4,195.62 113,198.22 110.4,200.82 107.8,198.22" fill="#b060f0"/>
<text x="117.9" y="200.42" font-size="5.6" text-anchor="start" fill="#1a1a1a" font-weight="bold" textLength="44" lengthAdjust="spacingAndGlyphs" >Ref.Cheng, X.–2023</text>
<polygon points="112,203.35 112,207.75 108.2,205.55" fill="#d4940a"/>
<text x="117.9" y="207.75" font-size="5.6" text-anchor="start" fill="#1a1a1a" font-weight="bold" textLength="49.3" lengthAdjust="spacingAndGlyphs" >Ref.Wang, W.T.–2022</text>
<polygon points="108.8,210.68 108.8,215.08 112.6,212.88" fill="#20c8d8"/>
<text x="117.9" y="215.08" font-size="5.6" text-anchor="start" fill="#1a1a1a" font-weight="bold" textLength="53" lengthAdjust="spacingAndGlyphs" >Ref.Alexander, D.–2020</text>
<circle cx="110.4" cy="220.21" r="2" fill="#8a4a4a"/>
<text x="117.9" y="222.41" font-size="5.6" text-anchor="start" fill="#1a1a1a" font-weight="bold" textLength="36.6" lengthAdjust="spacingAndGlyphs" >Ref.Lin, F.–2021</text>
<circle cx="110.4" cy="227.54" r="2" fill="#9a9a10"/>
<text x="117.9" y="229.74" font-size="5.6" text-anchor="start" fill="#1a1a1a" font-weight="bold" textLength="47" lengthAdjust="spacingAndGlyphs" >Ref.Yang, X.R.–2023</text>
<polygon points="112.22,235.92 110.4,236.97 108.58,235.92 108.58,233.82 110.4,232.77 112.22,233.82" fill="#808080"/>
<text x="117.9" y="237.07" font-size="5.6" text-anchor="start" fill="#1a1a1a" font-weight="bold" textLength="47.5" lengthAdjust="spacingAndGlyphs" >Ref.Bohdan, K.–2021</text>
<polygon points="110.4,238.75 111.21,241.08 113.68,241.13 111.71,242.63 112.43,244.99 110.4,243.58 108.37,244.99 109.09,242.63 107.12,241.13 109.59,241.08" fill="#f02020"/>
<text x="117.9" y="244.4" font-size="5.6" text-anchor="start" fill="#1a1a1a" font-weight="bold" textLength="22.4" lengthAdjust="spacingAndGlyphs" >This work</text>
<circle cx="109.9" cy="227.04" r="0.6" fill="#f0f080"/>
<rect x="212.4" y="163" width="333" height="125.5" fill="none" stroke="#858585" stroke-width="1" />
<line x1="212.4" y1="281.5" x2="214.9" y2="281.5" stroke="#858585" stroke-width="1" />
<text x="208.9" y="283.84" font-size="5.4" text-anchor="end" fill="#1a1a1a" font-weight="bold" >0</text>
<line x1="212.4" y1="251.84" x2="214.9" y2="251.84" stroke="#858585" stroke-width="1" />
<text x="208.9" y="254.18" font-size="5.4" text-anchor="end" fill="#1a1a1a" font-weight="bold" >2</text>
<line x1="212.4" y1="222.18" x2="214.9" y2="222.18" stroke="#858585" stroke-width="1" />
<text x="208.9" y="224.52" font-size="5.4" text-anchor="end" fill="#1a1a1a" font-weight="bold" >4</text>
<line x1="212.4" y1="192.52" x2="214.9" y2="192.52" stroke="#858585" stroke-width="1" />
<text x="208.9" y="194.86" font-size="5.4" text-anchor="end" fill="#1a1a1a" font-weight="bold" >6</text>
<line x1="212.4" y1="162.86" x2="214.9" y2="162.86" stroke="#858585" stroke-width="1" />
<text x="208.9" y="165.2" font-size="5.4" text-anchor="end" fill="#1a1a1a" font-weight="bold" >8</text>
<line x1="212.4" y1="266.67" x2="213.9" y2="266.67" stroke="#858585" stroke-width="1" />
<line x1="212.4" y1="237.01" x2="213.9" y2="237.01" stroke="#858585" stroke-width="1" />
<line x1="212.4" y1="207.35" x2="213.9" y2="207.35" stroke="#858585" stroke-width="1" />
<line x1="212.4" y1="177.69" x2="213.9" y2="177.69" stroke="#858585" stroke-width="1" />
<line x1="216.6" y1="288.5" x2="216.6" y2="286" stroke="#858585" stroke-width="1" />
<text x="216.6" y="296.7" font-size="5.4" text-anchor="middle" fill="#1a1a1a" font-weight="bold" >0</text>
<line x1="260.93" y1="288.5" x2="260.93" y2="286" stroke="#858585" stroke-width="1" />
<text x="260.93" y="296.7" font-size="5.4" text-anchor="middle" fill="#1a1a1a" font-weight="bold" >50</text>
<line x1="305.26" y1="288.5" x2="305.26" y2="286" stroke="#858585" stroke-width="1" />
<text x="305.26" y="296.7" font-size="5.4" text-anchor="middle" fill="#1a1a1a" font-weight="bold" >100</text>
<line x1="349.59" y1="288.5" x2="349.59" y2="286" stroke="#858585" stroke-width="1" />
<text x="349.59" y="296.7" font-size="5.4" text-anchor="middle" fill="#1a1a1a" font-weight="bold" >150</text>
<line x1="393.92" y1="288.5" x2="393.92" y2="286" stroke="#858585" stroke-width="1" />
<text x="393.92" y="296.7" font-size="5.4" text-anchor="middle" fill="#1a1a1a" font-weight="bold" >200</text>
<line x1="438.25" y1="288.5" x2="438.25" y2="286" stroke="#858585" stroke-width="1" />
<text x="438.25" y="296.7" font-size="5.4" text-anchor="middle" fill="#1a1a1a" font-weight="bold" >250</text>
<line x1="482.58" y1="288.5" x2="482.58" y2="286" stroke="#858585" stroke-width="1" />
<text x="482.58" y="296.7" font-size="5.4" text-anchor="middle" fill="#1a1a1a" font-weight="bold" >300</text>
<line x1="526.91" y1="288.5" x2="526.91" y2="286" stroke="#858585" stroke-width="1" />
<text x="526.91" y="296.7" font-size="5.4" text-anchor="middle" fill="#1a1a1a" font-weight="bold" >350</text>
<line x1="238.76" y1="288.5" x2="238.76" y2="287" stroke="#858585" stroke-width="1" />
<line x1="283.1" y1="288.5" x2="283.1" y2="287" stroke="#858585" stroke-width="1" />
<line x1="327.43" y1="288.5" x2="327.43" y2="287" stroke="#858585" stroke-width="1" />
<line x1="371.75" y1="288.5" x2="371.75" y2="287" stroke="#858585" stroke-width="1" />
<line x1="416.09" y1="288.5" x2="416.09" y2="287" stroke="#858585" stroke-width="1" />
<line x1="460.42" y1="288.5" x2="460.42" y2="287" stroke="#858585" stroke-width="1" />
<line x1="504.75" y1="288.5" x2="504.75" y2="287" stroke="#858585" stroke-width="1" />
<text x="190" y="169.1" font-size="8.5" text-anchor="start" fill="#1a1a1a" font-weight="bold" >(e)</text>
<g transform="translate(199,211) rotate(-90)"><polygon points="-12.45,0.5 -6.65,0.5 -9.55,-5.6" fill="none" stroke="#333" stroke-width="0.8"/><text x="-5.65" y="0" font-size="7.9" font-weight="bold" fill="#1a1a1a" textLength="15.4" lengthAdjust="spacingAndGlyphs">R/R</text><text x="9.95" y="2.3" font-size="4.9" font-weight="bold" fill="#1a1a1a">0</text></g>
<text x="377" y="306.5" font-size="8.7" text-anchor="middle" fill="#1a1a1a" font-weight="bold" >Time(s)</text>
<path d="M216.7,280.8 L217.5,279.6 L218.3,280.94 L219.1,279.74 L219.9,281.08 L220.7,279.88 L221.5,281.22 L222.3,280.02 L223.1,281.36 L223.9,280.16 L224.7,281.5 L225.5,280.3 L226.3,281.64 L227.1,280.44 L227.9,281.78 L228.7,280.58 L229.5,281.92 L230.3,280.72 L231.1,282.06 L231.9,280.86 L232.7,282.2 L233.5,281 L234.3,282.34 L235.1,281.14 L235.9,282.48 L236.7,281.28 L237.5,282.62 L238.3,281.42 L239.1,282.76 L239.9,281.56 L240.7,282.9 L241.5,281.7 L242.3,283.04 L243.1,281.84 L243.9,283.18 L244.7,281.98" stroke="#333333" stroke-width="0.9" fill="none" stroke-linejoin="round" />
<path d="M244.1,281.2 L245.6,281.67 L245.85,276.66 L246.5,279.08 L247.2,279.48 L248.07,282.27 L248.42,281.79 L248.67,276.62 L249.32,279.22 L250.02,279.62 L250.89,282.39 L251.24,281.92 L251.49,277.52 L252.14,279.36 L252.84,279.76 L253.71,282.52 L254.06,282.04 L254.31,276.91 L254.96,279.51 L255.66,279.91 L256.53,282.64 L256.88,282.17 L257.13,277.76 L257.78,279.65 L258.48,280.05 L259.35,282.77 L259.7,282.29 L259.95,277.72 L260.6,279.79 L261.3,280.19 L262.17,282.89 L262.52,282.42 L262.77,277.49 L263.42,279.94 L264.12,280.34 L264.99,283.02 L265.34,282.54 L265.59,278.31 L266.24,280.08 L266.94,280.48 L267.81,283.14 L268.16,282.66 L268.41,277.86 L269.06,280.22 L269.76,280.62 L270.63,283.26 L270.98,282.79 L271.23,278.61 L271.88,280.37 L272.58,280.77 L273.45,283.39 L273.8,282.91 L274.05,278.3 L274.7,280.51 L275.4,280.91 L276.27,283.51 L276.62,283.04 L276.87,278.53 L277.52,280.65 L278.22,281.05 L279.09,283.64 L279.44,283.16 L279.69,279.2 L280.34,280.8 L281.04,281.2 L281.91,283.76 L282.26,283.29 L282.51,279.96 L283.16,280.94 L283.86,281.34 L284.73,283.89 L285.08,283.41 L285.33,279.17 L285.98,281.09 L286.68,281.49 L287.55,284.01 L287.9,283.54 L288.15,279.51 L288.8,281.23" stroke="#ee4444" stroke-width="1.0" fill="none" stroke-linejoin="round" />
<path d="M289.4,283 L289.4,276.2 L325.6,277.6 L325.6,284.4 Z" fill="#2a72de" fill-opacity="0.78"/>
<polygon points="294.17,284.01 295.47,284.01 294.82,279.83" fill="#ffffff"/>
<polygon points="297.74,284.15 299.04,284.15 298.39,279.97" fill="#ffffff"/>
<polygon points="301.31,284.29 302.61,284.29 301.96,280.11" fill="#ffffff"/>
<polygon points="304.88,284.42 306.18,284.42 305.53,280.24" fill="#ffffff"/>
<polygon points="308.45,284.56 309.75,284.56 309.1,280.38" fill="#ffffff"/>
<polygon points="312.02,284.7 313.32,284.7 312.67,280.52" fill="#ffffff"/>
<polygon points="315.59,284.84 316.89,284.84 316.24,280.66" fill="#ffffff"/>
<polygon points="319.16,284.98 320.46,284.98 319.81,280.8" fill="#ffffff"/>
<polygon points="322.73,285.11 324.03,285.11 323.38,280.93" fill="#ffffff"/>
<line x1="292.2" y1="283.41" x2="292.2" y2="272.95" stroke="#2a72de" stroke-width="1.2" />
<path d="M292.5,273.45 L293.1,276.31 L295.07,281.07" stroke="#2a72de" stroke-width="0.9" fill="none" stroke-linejoin="round" />
<line x1="295.77" y1="283.55" x2="295.77" y2="273.75" stroke="#2a72de" stroke-width="1.2" />
<path d="M296.07,274.25 L296.67,276.45 L298.64,281.21" stroke="#2a72de" stroke-width="0.9" fill="none" stroke-linejoin="round" />
<line x1="299.34" y1="283.68" x2="299.34" y2="273.71" stroke="#2a72de" stroke-width="1.2" />
<path d="M299.64,274.21 L300.24,276.58 L302.21,281.34" stroke="#2a72de" stroke-width="0.9" fill="none" stroke-linejoin="round" />
<line x1="302.91" y1="283.82" x2="302.91" y2="273.91" stroke="#2a72de" stroke-width="1.2" />
<path d="M303.21,274.41 L303.81,276.72 L305.78,281.48" stroke="#2a72de" stroke-width="0.9" fill="none" stroke-linejoin="round" />
<line x1="306.48" y1="283.96" x2="306.48" y2="275.02" stroke="#2a72de" stroke-width="1.2" />
<path d="M306.78,275.52 L307.38,276.86 L309.35,281.62" stroke="#2a72de" stroke-width="0.9" fill="none" stroke-linejoin="round" />
<line x1="310.05" y1="284.1" x2="310.05" y2="274.31" stroke="#2a72de" stroke-width="1.2" />
<path d="M310.35,274.81 L310.95,277 L312.92,281.76" stroke="#2a72de" stroke-width="0.9" fill="none" stroke-linejoin="round" />
<line x1="313.62" y1="284.24" x2="313.62" y2="275.7" stroke="#2a72de" stroke-width="1.2" />
<path d="M313.92,276.2 L314.52,277.14 L316.49,281.9" stroke="#2a72de" stroke-width="0.9" fill="none" stroke-linejoin="round" />
<line x1="317.19" y1="284.37" x2="317.19" y2="275.43" stroke="#2a72de" stroke-width="1.2" />
<path d="M317.49,275.93 L318.09,277.27 L320.06,282.03" stroke="#2a72de" stroke-width="0.9" fill="none" stroke-linejoin="round" />
<line x1="320.76" y1="284.51" x2="320.76" y2="275.66" stroke="#2a72de" stroke-width="1.2" />
<path d="M321.06,276.16 L321.66,277.41 L323.63,282.17" stroke="#2a72de" stroke-width="0.9" fill="none" stroke-linejoin="round" />
<line x1="324.33" y1="284.65" x2="324.33" y2="276.04" stroke="#2a72de" stroke-width="1.2" />
<path d="M324.63,276.54 L325.23,277.55 L325.6,282.31" stroke="#2a72de" stroke-width="0.9" fill="none" stroke-linejoin="round" />
<path d="M325.5,282.2 L325.5,273.2 L362,274.2 L362,283.2 Z" fill="#30a865" fill-opacity="0.78"/>
<polygon points="330.19,283.15 331.49,283.15 330.84,278.74" fill="#ffffff"/>
<polygon points="333.78,283.24 335.08,283.24 334.43,278.83" fill="#ffffff"/>
<polygon points="337.37,283.34 338.67,283.34 338.02,278.93" fill="#ffffff"/>
<polygon points="340.96,283.44 342.26,283.44 341.61,279.03" fill="#ffffff"/>
<polygon points="344.55,283.54 345.85,283.54 345.2,279.13" fill="#ffffff"/>
<polygon points="348.14,283.64 349.44,283.64 348.79,279.23" fill="#ffffff"/>
<polygon points="351.73,283.74 353.03,283.74 352.38,279.33" fill="#ffffff"/>
<polygon points="355.32,283.83 356.62,283.83 355.97,279.42" fill="#ffffff"/>
<polygon points="358.91,283.93 360.21,283.93 359.56,279.52" fill="#ffffff"/>
<line x1="328.2" y1="282.57" x2="328.2" y2="268.37" stroke="#30a865" stroke-width="1.2" />
<path d="M328.5,268.87 L329.1,273.27 L331.09,279.57" stroke="#30a865" stroke-width="0.9" fill="none" stroke-linejoin="round" />
<line x1="331.79" y1="282.67" x2="331.79" y2="269.33" stroke="#30a865" stroke-width="1.2" />
<path d="M332.09,269.83 L332.69,273.37 L334.68,279.67" stroke="#30a865" stroke-width="0.9" fill="none" stroke-linejoin="round" />
<line x1="335.38" y1="282.77" x2="335.38" y2="268.93" stroke="#30a865" stroke-width="1.2" />
<path d="M335.68,269.43 L336.28,273.47 L338.27,279.77" stroke="#30a865" stroke-width="0.9" fill="none" stroke-linejoin="round" />
<line x1="338.97" y1="282.87" x2="338.97" y2="269.76" stroke="#30a865" stroke-width="1.2" />
<path d="M339.27,270.26 L339.87,273.57 L341.86,279.87" stroke="#30a865" stroke-width="0.9" fill="none" stroke-linejoin="round" />
<line x1="342.56" y1="282.97" x2="342.56" y2="270.19" stroke="#30a865" stroke-width="1.2" />
<path d="M342.86,270.69 L343.46,273.67 L345.45,279.97" stroke="#30a865" stroke-width="0.9" fill="none" stroke-linejoin="round" />
<line x1="346.15" y1="283.07" x2="346.15" y2="270.22" stroke="#30a865" stroke-width="1.2" />
<path d="M346.45,270.72 L347.05,273.77 L349.04,280.07" stroke="#30a865" stroke-width="0.9" fill="none" stroke-linejoin="round" />
<line x1="349.74" y1="283.16" x2="349.74" y2="270.79" stroke="#30a865" stroke-width="1.2" />
<path d="M350.04,271.29 L350.64,273.86 L352.63,280.16" stroke="#30a865" stroke-width="0.9" fill="none" stroke-linejoin="round" />
<line x1="353.33" y1="283.26" x2="353.33" y2="270.56" stroke="#30a865" stroke-width="1.2" />
<path d="M353.63,271.06 L354.23,273.96 L356.22,280.26" stroke="#30a865" stroke-width="0.9" fill="none" stroke-linejoin="round" />
<line x1="356.92" y1="283.36" x2="356.92" y2="270.92" stroke="#30a865" stroke-width="1.2" />
<path d="M357.22,271.42 L357.82,274.06 L359.81,280.36" stroke="#30a865" stroke-width="0.9" fill="none" stroke-linejoin="round" />
<line x1="360.51" y1="283.46" x2="360.51" y2="271.45" stroke="#30a865" stroke-width="1.2" />
<path d="M360.81,271.95 L361.41,274.16 L362,280.46" stroke="#30a865" stroke-width="0.9" fill="none" stroke-linejoin="round" />
<path d="M361.9,282 L361.9,270.2 L397.3,271 L397.3,282.5 Z" fill="#b070e8" fill-opacity="0.78"/>
<polygon points="366.15,282.87 367.55,282.87 366.85,277.22" fill="#ffffff"/>
<polygon points="369.75,282.92 371.15,282.92 370.45,277.28" fill="#ffffff"/>
<polygon points="373.35,282.97 374.75,282.97 374.05,277.35" fill="#ffffff"/>
<polygon points="376.95,283.02 378.35,283.02 377.65,277.41" fill="#ffffff"/>
<polygon points="380.55,283.07 381.95,283.07 381.25,277.48" fill="#ffffff"/>
<polygon points="384.15,283.12 385.55,283.12 384.85,277.54" fill="#ffffff"/>
<polygon points="387.75,283.18 389.15,283.18 388.45,277.61" fill="#ffffff"/>
<polygon points="391.35,283.23 392.75,283.23 392.05,277.67" fill="#ffffff"/>
<polygon points="394.95,283.28 396.35,283.28 395.65,277.74" fill="#ffffff"/>
<line x1="364.2" y1="282.33" x2="364.2" y2="264.22" stroke="#b070e8" stroke-width="1.2" />
<path d="M364.5,264.72 L365.1,270.25 L367.1,278.5" stroke="#b070e8" stroke-width="0.9" fill="none" stroke-linejoin="round" />
<line x1="367.8" y1="282.38" x2="367.8" y2="264.28" stroke="#b070e8" stroke-width="1.2" />
<path d="M368.1,264.78 L368.7,270.33 L370.7,278.56" stroke="#b070e8" stroke-width="0.9" fill="none" stroke-linejoin="round" />
<line x1="371.4" y1="282.43" x2="371.4" y2="264.51" stroke="#b070e8" stroke-width="1.2" />
<path d="M371.7,265.01 L372.3,270.41 L374.3,278.62" stroke="#b070e8" stroke-width="0.9" fill="none" stroke-linejoin="round" />
<line x1="375" y1="282.49" x2="375" y2="265.2" stroke="#b070e8" stroke-width="1.2" />
<path d="M375.3,265.7 L375.9,270.5 L377.9,278.68" stroke="#b070e8" stroke-width="0.9" fill="none" stroke-linejoin="round" />
<line x1="378.6" y1="282.54" x2="378.6" y2="265.41" stroke="#b070e8" stroke-width="1.2" />
<path d="M378.9,265.91 L379.5,270.58 L381.5,278.74" stroke="#b070e8" stroke-width="0.9" fill="none" stroke-linejoin="round" />
<line x1="382.2" y1="282.59" x2="382.2" y2="265.59" stroke="#b070e8" stroke-width="1.2" />
<path d="M382.5,266.09 L383.1,270.66 L385.1,278.8" stroke="#b070e8" stroke-width="0.9" fill="none" stroke-linejoin="round" />
<line x1="385.8" y1="282.64" x2="385.8" y2="266.55" stroke="#b070e8" stroke-width="1.2" />
<path d="M386.1,267.05 L386.7,270.74 L388.7,278.86" stroke="#b070e8" stroke-width="0.9" fill="none" stroke-linejoin="round" />
<line x1="389.4" y1="282.69" x2="389.4" y2="266.81" stroke="#b070e8" stroke-width="1.2" />
<path d="M389.7,267.31 L390.3,270.82 L392.3,278.92" stroke="#b070e8" stroke-width="0.9" fill="none" stroke-linejoin="round" />
<line x1="393" y1="282.74" x2="393" y2="266.63" stroke="#b070e8" stroke-width="1.2" />
<path d="M393.3,267.13 L393.9,270.9 L395.9,278.98" stroke="#b070e8" stroke-width="0.9" fill="none" stroke-linejoin="round" />
<line x1="396.6" y1="282.79" x2="396.6" y2="267.39" stroke="#b070e8" stroke-width="1.2" />
<path d="M396.9,267.89 L397.5,270.98 L397.3,279.04" stroke="#b070e8" stroke-width="0.9" fill="none" stroke-linejoin="round" />
<path d="M397.2,282.5 L397.2,264.2 L433.4,265 L433.4,282.5 Z" fill="#d8a018" fill-opacity="0.78"/>
<polygon points="401.87,283.3 403.27,283.3 402.57,272.86" fill="#ffffff"/>
<polygon points="405.49,283.3 406.89,283.3 406.19,272.9" fill="#ffffff"/>
<polygon points="409.11,283.3 410.51,283.3 409.81,272.95" fill="#ffffff"/>
<polygon points="412.73,283.3 414.13,283.3 413.43,272.99" fill="#ffffff"/>
<polygon points="416.35,283.3 417.75,283.3 417.05,273.04" fill="#ffffff"/>
<polygon points="419.97,283.3 421.37,283.3 420.67,273.08" fill="#ffffff"/>
<polygon points="423.59,283.3 424.99,283.3 424.29,273.12" fill="#ffffff"/>
<polygon points="427.21,283.3 428.61,283.3 427.91,273.17" fill="#ffffff"/>
<polygon points="430.83,283.3 432.23,283.3 431.53,273.21" fill="#ffffff"/>
<line x1="399.9" y1="282.8" x2="399.9" y2="253.43" stroke="#d8a018" stroke-width="1.2" />
<path d="M400.2,253.93 L400.8,264.26 L402.82,277.03" stroke="#d8a018" stroke-width="0.9" fill="none" stroke-linejoin="round" />
<line x1="403.52" y1="282.8" x2="403.52" y2="254.56" stroke="#d8a018" stroke-width="1.2" />
<path d="M403.82,255.06 L404.42,264.34 L406.44,277.05" stroke="#d8a018" stroke-width="0.9" fill="none" stroke-linejoin="round" />
<line x1="407.14" y1="282.8" x2="407.14" y2="255.1" stroke="#d8a018" stroke-width="1.2" />
<path d="M407.44,255.6 L408.04,264.42 L410.06,277.08" stroke="#d8a018" stroke-width="0.9" fill="none" stroke-linejoin="round" />
<line x1="410.76" y1="282.8" x2="410.76" y2="255.28" stroke="#d8a018" stroke-width="1.2" />
<path d="M411.06,255.78 L411.66,264.5 L413.68,277.1" stroke="#d8a018" stroke-width="0.9" fill="none" stroke-linejoin="round" />
<line x1="414.38" y1="282.8" x2="414.38" y2="256.82" stroke="#d8a018" stroke-width="1.2" />
<path d="M414.68,257.32 L415.28,264.58 L417.3,277.12" stroke="#d8a018" stroke-width="0.9" fill="none" stroke-linejoin="round" />
<line x1="418" y1="282.8" x2="418" y2="256.5" stroke="#d8a018" stroke-width="1.2" />
<path d="M418.3,257 L418.9,264.66 L420.92,277.15" stroke="#d8a018" stroke-width="0.9" fill="none" stroke-linejoin="round" />
<line x1="421.62" y1="282.8" x2="421.62" y2="257.57" stroke="#d8a018" stroke-width="1.2" />
<path d="M421.92,258.07 L422.52,264.74 L424.54,277.17" stroke="#d8a018" stroke-width="0.9" fill="none" stroke-linejoin="round" />
<line x1="425.24" y1="282.8" x2="425.24" y2="258.69" stroke="#d8a018" stroke-width="1.2" />
<path d="M425.54,259.19 L426.14,264.82 L428.16,277.2" stroke="#d8a018" stroke-width="0.9" fill="none" stroke-linejoin="round" />
<line x1="428.86" y1="282.8" x2="428.86" y2="258.67" stroke="#d8a018" stroke-width="1.2" />
<path d="M429.16,259.17 L429.76,264.9 L431.78,277.22" stroke="#d8a018" stroke-width="0.9" fill="none" stroke-linejoin="round" />
<line x1="432.48" y1="282.8" x2="432.48" y2="259.79" stroke="#d8a018" stroke-width="1.2" />
<path d="M432.78,260.29 L433.38,264.98 L433.4,277.24" stroke="#d8a018" stroke-width="0.9" fill="none" stroke-linejoin="round" />
<path d="M433.3,283.3 L433.3,250 L469.6,251 L469.6,283.3 Z" fill="#20c4c8" fill-opacity="0.78"/>
<polygon points="437.53,284.1 438.93,284.1 438.23,268.82" fill="#ffffff"/>
<polygon points="441.21,284.1 442.61,284.1 441.91,268.86" fill="#ffffff"/>
<polygon points="444.89,284.1 446.29,284.1 445.59,268.91" fill="#ffffff"/>
<polygon points="448.57,284.1 449.97,284.1 449.27,268.95" fill="#ffffff"/>
<polygon points="452.25,284.1 453.65,284.1 452.95,269" fill="#ffffff"/>
<polygon points="455.93,284.1 457.33,284.1 456.63,269.04" fill="#ffffff"/>
<polygon points="459.61,284.1 461.01,284.1 460.31,269.09" fill="#ffffff"/>
<polygon points="463.29,284.1 464.69,284.1 463.99,269.14" fill="#ffffff"/>
<polygon points="466.97,284.1 468.37,284.1 467.67,269.18" fill="#ffffff"/>
<line x1="435.5" y1="283.6" x2="435.5" y2="232.35" stroke="#20c4c8" stroke-width="1.2" />
<line x1="439.18" y1="283.6" x2="439.18" y2="233.84" stroke="#20c4c8" stroke-width="1.2" />
<line x1="442.86" y1="283.6" x2="442.86" y2="234.68" stroke="#20c4c8" stroke-width="1.2" />
<line x1="446.54" y1="283.6" x2="446.54" y2="235.19" stroke="#20c4c8" stroke-width="1.2" />
<line x1="450.22" y1="283.6" x2="450.22" y2="236.28" stroke="#20c4c8" stroke-width="1.2" />
<line x1="453.9" y1="283.6" x2="453.9" y2="236.34" stroke="#20c4c8" stroke-width="1.2" />
<line x1="457.58" y1="283.6" x2="457.58" y2="237.53" stroke="#20c4c8" stroke-width="1.2" />
<line x1="461.26" y1="283.6" x2="461.26" y2="238.15" stroke="#20c4c8" stroke-width="1.2" />
<line x1="464.94" y1="283.6" x2="464.94" y2="238.86" stroke="#20c4c8" stroke-width="1.2" />
<line x1="468.62" y1="283.6" x2="468.62" y2="239.45" stroke="#20c4c8" stroke-width="1.2" />
<path d="M469.5,281.1 L469.5,230.7 L505.9,231.5 L505.9,281.5 Z" fill="#7e4650" fill-opacity="0.78"/>
<polygon points="474.54,281.96 475.74,281.96 475.14,261.51" fill="#ffffff"/>
<polygon points="478.33,282 479.53,282 478.93,261.57" fill="#ffffff"/>
<polygon points="482.12,282.05 483.32,282.05 482.72,261.62" fill="#ffffff"/>
<polygon points="485.91,282.09 487.11,282.09 486.51,261.68" fill="#ffffff"/>
<polygon points="489.7,282.13 490.9,282.13 490.3,261.74" fill="#ffffff"/>
<polygon points="493.49,282.17 494.69,282.17 494.09,261.8" fill="#ffffff"/>
<polygon points="497.28,282.21 498.48,282.21 497.88,261.86" fill="#ffffff"/>
<polygon points="501.07,282.25 502.27,282.25 501.67,261.91" fill="#ffffff"/>
<line x1="472.3" y1="281.43" x2="472.3" y2="207.41" stroke="#7e4650" stroke-width="1.2" />
<line x1="476.09" y1="281.47" x2="476.09" y2="208.58" stroke="#7e4650" stroke-width="1.2" />
<line x1="479.88" y1="281.51" x2="479.88" y2="209.07" stroke="#7e4650" stroke-width="1.2" />
<line x1="483.67" y1="281.56" x2="483.67" y2="210.35" stroke="#7e4650" stroke-width="1.2" />
<line x1="487.46" y1="281.6" x2="487.46" y2="210.67" stroke="#7e4650" stroke-width="1.2" />
<line x1="491.25" y1="281.64" x2="491.25" y2="212.49" stroke="#7e4650" stroke-width="1.2" />
<line x1="495.04" y1="281.68" x2="495.04" y2="213.48" stroke="#7e4650" stroke-width="1.2" />
<line x1="498.83" y1="281.72" x2="498.83" y2="214.94" stroke="#7e4650" stroke-width="1.2" />
<line x1="502.62" y1="281.76" x2="502.62" y2="215.79" stroke="#7e4650" stroke-width="1.2" />
<path d="M505.8,282.7 L505.8,212 L541.6,213 L541.6,282.7 Z" fill="#9e9a10" fill-opacity="0.78"/>
<polygon points="510.26,283.5 511.46,283.5 510.86,265.66" fill="#ffffff"/>
<polygon points="513.87,283.5 515.07,283.5 514.47,265.69" fill="#ffffff"/>
<polygon points="517.48,283.5 518.68,283.5 518.08,265.71" fill="#ffffff"/>
<polygon points="521.09,283.5 522.29,283.5 521.69,265.74" fill="#ffffff"/>
<polygon points="524.7,283.5 525.9,283.5 525.3,265.76" fill="#ffffff"/>
<polygon points="528.31,283.5 529.51,283.5 528.91,265.79" fill="#ffffff"/>
<polygon points="531.92,283.5 533.12,283.5 532.52,265.81" fill="#ffffff"/>
<polygon points="535.53,283.5 536.73,283.5 536.13,265.84" fill="#ffffff"/>
<polygon points="539.14,283.5 540.34,283.5 539.74,265.86" fill="#ffffff"/>
<line x1="508.2" y1="283" x2="508.2" y2="174.9" stroke="#9e9a10" stroke-width="1.2" />
<line x1="511.81" y1="283" x2="511.81" y2="178.4" stroke="#9e9a10" stroke-width="1.2" />
<line x1="515.42" y1="283" x2="515.42" y2="178.9" stroke="#9e9a10" stroke-width="1.2" />
<line x1="519.03" y1="283" x2="519.03" y2="181.1" stroke="#9e9a10" stroke-width="1.2" />
<line x1="522.64" y1="283" x2="522.64" y2="184.3" stroke="#9e9a10" stroke-width="1.2" />
<line x1="526.25" y1="283" x2="526.25" y2="182.3" stroke="#9e9a10" stroke-width="1.2" />
<line x1="529.86" y1="283" x2="529.86" y2="184.3" stroke="#9e9a10" stroke-width="1.2" />
<line x1="533.47" y1="283" x2="533.47" y2="181.8" stroke="#9e9a10" stroke-width="1.2" />
<line x1="537.08" y1="283" x2="537.08" y2="186.3" stroke="#9e9a10" stroke-width="1.2" />
<line x1="540.69" y1="283" x2="540.69" y2="188.6" stroke="#9e9a10" stroke-width="1.2" />
<line x1="248.8" y1="175.8" x2="267.4" y2="175.8" stroke="#505050" stroke-width="1.3" />
<text x="268.6" y="178.6" font-size="8.0" text-anchor="start" fill="#1a1a1a" font-weight="bold" >0.2%</text>
<line x1="248.8" y1="185.87" x2="267.4" y2="185.87" stroke="#ee4444" stroke-width="1.3" />
<text x="268.6" y="188.67" font-size="8.0" text-anchor="start" fill="#1a1a1a" font-weight="bold" >1.0%</text>
<line x1="248.8" y1="195.94" x2="267.4" y2="195.94" stroke="#2a72de" stroke-width="1.3" />
<text x="268.6" y="198.74" font-size="8.0" text-anchor="start" fill="#1a1a1a" font-weight="bold" >2.0%</text>
<line x1="248.8" y1="206.01" x2="267.4" y2="206.01" stroke="#30a865" stroke-width="1.3" />
<text x="268.6" y="208.81" font-size="8.0" text-anchor="start" fill="#1a1a1a" font-weight="bold" >3.0%</text>
<line x1="248.8" y1="216.08" x2="267.4" y2="216.08" stroke="#b070e8" stroke-width="1.3" />
<text x="268.6" y="218.88" font-size="8.0" text-anchor="start" fill="#1a1a1a" font-weight="bold" >4.0%</text>
<line x1="248.8" y1="226.15" x2="267.4" y2="226.15" stroke="#d8a018" stroke-width="1.3" />
<text x="268.6" y="228.95" font-size="8.0" text-anchor="start" fill="#1a1a1a" font-weight="bold" >5.0%</text>
<line x1="248.8" y1="236.22" x2="267.4" y2="236.22" stroke="#20c4c8" stroke-width="1.3" />
<text x="268.6" y="239.02" font-size="8.0" text-anchor="start" fill="#1a1a1a" font-weight="bold" >6.0%</text>
<line x1="248.8" y1="246.29" x2="267.4" y2="246.29" stroke="#7e4650" stroke-width="1.3" />
<text x="268.6" y="249.09" font-size="8.0" text-anchor="start" fill="#1a1a1a" font-weight="bold" >7.0%</text>
<line x1="248.8" y1="256.36" x2="267.4" y2="256.36" stroke="#9e9a10" stroke-width="1.3" />
<text x="268.6" y="259.16" font-size="8.0" text-anchor="start" fill="#1a1a1a" font-weight="bold" >8.0%</text>
<rect x="26.8" y="311.6" width="154.1" height="122.6" fill="none" stroke="#858585" stroke-width="1" />
<line x1="26.8" y1="425.5" x2="29.3" y2="425.5" stroke="#858585" stroke-width="1" />
<text x="23.8" y="427.8" font-size="5.3" text-anchor="end" fill="#1a1a1a" font-weight="bold" >0.0</text>
<line x1="26.8" y1="407.98" x2="29.3" y2="407.98" stroke="#858585" stroke-width="1" />
<text x="23.8" y="410.28" font-size="5.3" text-anchor="end" fill="#1a1a1a" font-weight="bold" >0.2</text>
<line x1="26.8" y1="390.46" x2="29.3" y2="390.46" stroke="#858585" stroke-width="1" />
<text x="23.8" y="392.76" font-size="5.3" text-anchor="end" fill="#1a1a1a" font-weight="bold" >0.4</text>
<line x1="26.8" y1="372.94" x2="29.3" y2="372.94" stroke="#858585" stroke-width="1" />
<text x="23.8" y="375.24" font-size="5.3" text-anchor="end" fill="#1a1a1a" font-weight="bold" >0.6</text>
<line x1="26.8" y1="355.42" x2="29.3" y2="355.42" stroke="#858585" stroke-width="1" />
<text x="23.8" y="357.72" font-size="5.3" text-anchor="end" fill="#1a1a1a" font-weight="bold" >0.8</text>
<line x1="26.8" y1="337.9" x2="29.3" y2="337.9" stroke="#858585" stroke-width="1" />
<text x="23.8" y="340.2" font-size="5.3" text-anchor="end" fill="#1a1a1a" font-weight="bold" >1.0</text>
<line x1="26.8" y1="320.38" x2="29.3" y2="320.38" stroke="#858585" stroke-width="1" />
<text x="23.8" y="322.68" font-size="5.3" text-anchor="end" fill="#1a1a1a" font-weight="bold" >1.2</text>
<line x1="26.8" y1="416.74" x2="28.3" y2="416.74" stroke="#858585" stroke-width="1" />
<line x1="26.8" y1="399.22" x2="28.3" y2="399.22" stroke="#858585" stroke-width="1" />
<line x1="26.8" y1="381.7" x2="28.3" y2="381.7" stroke="#858585" stroke-width="1" />
<line x1="26.8" y1="364.18" x2="28.3" y2="364.18" stroke="#858585" stroke-width="1" />
<line x1="26.8" y1="346.66" x2="28.3" y2="346.66" stroke="#858585" stroke-width="1" />
<line x1="26.8" y1="329.14" x2="28.3" y2="329.14" stroke="#858585" stroke-width="1" />
<line x1="31.7" y1="434.2" x2="31.7" y2="431.7" stroke="#858585" stroke-width="1" />
<text x="31.7" y="442.2" font-size="5.4" text-anchor="middle" fill="#1a1a1a" font-weight="bold" >0</text>
<line x1="51.6" y1="434.2" x2="51.6" y2="431.7" stroke="#858585" stroke-width="1" />
<text x="51.6" y="442.2" font-size="5.4" text-anchor="middle" fill="#1a1a1a" font-weight="bold" >2</text>
<line x1="71.5" y1="434.2" x2="71.5" y2="431.7" stroke="#858585" stroke-width="1" />
<text x="71.5" y="442.2" font-size="5.4" text-anchor="middle" fill="#1a1a1a" font-weight="bold" >4</text>
<line x1="91.4" y1="434.2" x2="91.4" y2="431.7" stroke="#858585" stroke-width="1" />
<text x="91.4" y="442.2" font-size="5.4" text-anchor="middle" fill="#1a1a1a" font-weight="bold" >6</text>
<line x1="111.3" y1="434.2" x2="111.3" y2="431.7" stroke="#858585" stroke-width="1" />
<text x="111.3" y="442.2" font-size="5.4" text-anchor="middle" fill="#1a1a1a" font-weight="bold" >8</text>
<line x1="131.2" y1="434.2" x2="131.2" y2="431.7" stroke="#858585" stroke-width="1" />
<text x="131.2" y="442.2" font-size="5.4" text-anchor="middle" fill="#1a1a1a" font-weight="bold" >10</text>
<line x1="151.1" y1="434.2" x2="151.1" y2="431.7" stroke="#858585" stroke-width="1" />
<text x="151.1" y="442.2" font-size="5.4" text-anchor="middle" fill="#1a1a1a" font-weight="bold" >12</text>
<line x1="171" y1="434.2" x2="171" y2="431.7" stroke="#858585" stroke-width="1" />
<text x="171" y="442.2" font-size="5.4" text-anchor="middle" fill="#1a1a1a" font-weight="bold" >14</text>
<line x1="41.65" y1="434.2" x2="41.65" y2="432.7" stroke="#858585" stroke-width="1" />
<line x1="61.55" y1="434.2" x2="61.55" y2="432.7" stroke="#858585" stroke-width="1" />
<line x1="81.45" y1="434.2" x2="81.45" y2="432.7" stroke="#858585" stroke-width="1" />
<line x1="101.35" y1="434.2" x2="101.35" y2="432.7" stroke="#858585" stroke-width="1" />
<line x1="121.25" y1="434.2" x2="121.25" y2="432.7" stroke="#858585" stroke-width="1" />
<line x1="141.15" y1="434.2" x2="141.15" y2="432.7" stroke="#858585" stroke-width="1" />
<line x1="161.05" y1="434.2" x2="161.05" y2="432.7" stroke="#858585" stroke-width="1" />
<line x1="180.95" y1="434.2" x2="180.95" y2="432.7" stroke="#858585" stroke-width="1" />
<text x="3" y="314.3" font-size="8.5" text-anchor="start" fill="#1a1a1a" font-weight="bold" >(f)</text>
<g transform="translate(9.9,366) rotate(-90)"><polygon points="-12.45,0.5 -6.65,0.5 -9.55,-5.6" fill="none" stroke="#333" stroke-width="0.8"/><text x="-5.65" y="0" font-size="7.9" font-weight="bold" fill="#1a1a1a" textLength="15.4" lengthAdjust="spacingAndGlyphs">R/R</text><text x="9.95" y="2.3" font-size="4.9" font-weight="bold" fill="#1a1a1a">0</text></g>
<text x="104" y="451.6" font-size="8.7" text-anchor="middle" fill="#1a1a1a" font-weight="bold" >Time(s)</text>
<rect x="78.8" y="312.1" width="2" height="121.6" fill="#cfcfcf" stroke="none" stroke-width="1" />
<rect x="128.4" y="312.1" width="2.2" height="121.6" fill="#cfcfcf" stroke="none" stroke-width="1" />
<path d="M31,425.68 L35.88,425.5 L40.26,423.49 L44.63,422.17 L51.2,421.91 L57.67,420.77 L64.34,420.33 L70.8,419.54 L78.37,420.33" stroke="#a66ce9" stroke-width="2.7" fill="none" stroke-linejoin="round" stroke-linecap="round"/>
<path d="M80.45,321.78 L80.95,326.16 L82.64,328.44 L87.02,328.88 L91.4,331.59 L96.77,332.91 L103.44,334.13 L109.91,335.1 L116.37,335.8 L123.04,336.5 L127.22,337.64" stroke="#a66ce9" stroke-width="2.7" fill="none" stroke-linejoin="round" stroke-linecap="round"/>
<path d="M130.5,419.89 L138.07,419.72 L146.82,419.19 L155.48,419.02 L159.86,418.14 L168.61,418.32 L176.27,418.32" stroke="#a66ce9" stroke-width="2.7" fill="none" stroke-linejoin="round" stroke-linecap="round"/>
<line x1="26.8" y1="323.1" x2="43.6" y2="323.1" stroke="#555555" stroke-width="1.8" />
<circle cx="35.9" cy="323.1" r="1.5" fill="#a66ce9"/>
<text x="46.3" y="325.4" font-size="7.4" text-anchor="start" fill="#1a1a1a" font-weight="bold" textLength="30.1" lengthAdjust="spacingAndGlyphs" >4% Strain</text>
<text x="50.6" y="371.2" font-size="7.6" text-anchor="start" fill="#1a1a1a" font-weight="bold" textLength="23" lengthAdjust="spacingAndGlyphs" >~150ms</text>
<text x="136.9" y="369.5" font-size="7.6" text-anchor="start" fill="#1a1a1a" font-weight="bold" textLength="22.5" lengthAdjust="spacingAndGlyphs" >~200ms</text>
<rect x="215.4" y="311.8" width="328.8" height="122.8" fill="none" stroke="#858585" stroke-width="1" />
<line x1="215.4" y1="424.76" x2="217.9" y2="424.76" stroke="#858585" stroke-width="1" />
<text x="212" y="427.06" font-size="5.3" text-anchor="end" fill="#1a1a1a" font-weight="bold" >-0.3</text>
<line x1="215.4" y1="410" x2="217.9" y2="410" stroke="#858585" stroke-width="1" />
<text x="212" y="412.3" font-size="5.3" text-anchor="end" fill="#1a1a1a" font-weight="bold" >0.0</text>
<line x1="215.4" y1="395.24" x2="217.9" y2="395.24" stroke="#858585" stroke-width="1" />
<text x="212" y="397.54" font-size="5.3" text-anchor="end" fill="#1a1a1a" font-weight="bold" >0.3</text>
<line x1="215.4" y1="380.48" x2="217.9" y2="380.48" stroke="#858585" stroke-width="1" />
<text x="212" y="382.78" font-size="5.3" text-anchor="end" fill="#1a1a1a" font-weight="bold" >0.6</text>
<line x1="215.4" y1="365.72" x2="217.9" y2="365.72" stroke="#858585" stroke-width="1" />
<text x="212" y="368.02" font-size="5.3" text-anchor="end" fill="#1a1a1a" font-weight="bold" >0.9</text>
<line x1="215.4" y1="350.96" x2="217.9" y2="350.96" stroke="#858585" stroke-width="1" />
<text x="212" y="353.26" font-size="5.3" text-anchor="end" fill="#1a1a1a" font-weight="bold" >1.2</text>
<line x1="215.4" y1="336.2" x2="217.9" y2="336.2" stroke="#858585" stroke-width="1" />
<text x="212" y="338.5" font-size="5.3" text-anchor="end" fill="#1a1a1a" font-weight="bold" >1.5</text>
<line x1="215.4" y1="321.44" x2="217.9" y2="321.44" stroke="#858585" stroke-width="1" />
<text x="212" y="323.74" font-size="5.3" text-anchor="end" fill="#1a1a1a" font-weight="bold" >1.8</text>
<line x1="215.4" y1="417.38" x2="216.9" y2="417.38" stroke="#858585" stroke-width="1" />
<line x1="215.4" y1="402.62" x2="216.9" y2="402.62" stroke="#858585" stroke-width="1" />
<line x1="215.4" y1="387.86" x2="216.9" y2="387.86" stroke="#858585" stroke-width="1" />
<line x1="215.4" y1="373.1" x2="216.9" y2="373.1" stroke="#858585" stroke-width="1" />
<line x1="215.4" y1="358.34" x2="216.9" y2="358.34" stroke="#858585" stroke-width="1" />
<line x1="215.4" y1="343.58" x2="216.9" y2="343.58" stroke="#858585" stroke-width="1" />
<line x1="215.4" y1="328.82" x2="216.9" y2="328.82" stroke="#858585" stroke-width="1" />
<line x1="215.4" y1="314.06" x2="216.9" y2="314.06" stroke="#858585" stroke-width="1" />
<line x1="219.3" y1="434.6" x2="219.3" y2="432.1" stroke="#858585" stroke-width="1" />
<text x="219.3" y="442.3" font-size="5.6" text-anchor="middle" fill="#1a1a1a" font-weight="bold" >0</text>
<line x1="259.5" y1="434.6" x2="259.5" y2="432.1" stroke="#858585" stroke-width="1" />
<text x="259.5" y="442.3" font-size="5.6" text-anchor="middle" fill="#1a1a1a" font-weight="bold" >1000</text>
<line x1="299.7" y1="434.6" x2="299.7" y2="432.1" stroke="#858585" stroke-width="1" />
<text x="299.7" y="442.3" font-size="5.6" text-anchor="middle" fill="#1a1a1a" font-weight="bold" >2000</text>
<line x1="339.9" y1="434.6" x2="339.9" y2="432.1" stroke="#858585" stroke-width="1" />
<text x="339.9" y="442.3" font-size="5.6" text-anchor="middle" fill="#1a1a1a" font-weight="bold" >3000</text>
<line x1="380.1" y1="434.6" x2="380.1" y2="432.1" stroke="#858585" stroke-width="1" />
<text x="380.1" y="442.3" font-size="5.6" text-anchor="middle" fill="#1a1a1a" font-weight="bold" >4000</text>
<line x1="420.3" y1="434.6" x2="420.3" y2="432.1" stroke="#858585" stroke-width="1" />
<text x="420.3" y="442.3" font-size="5.6" text-anchor="middle" fill="#1a1a1a" font-weight="bold" >5000</text>
<line x1="460.5" y1="434.6" x2="460.5" y2="432.1" stroke="#858585" stroke-width="1" />
<text x="460.5" y="442.3" font-size="5.6" text-anchor="middle" fill="#1a1a1a" font-weight="bold" >6000</text>
<line x1="500.7" y1="434.6" x2="500.7" y2="432.1" stroke="#858585" stroke-width="1" />
<text x="500.7" y="442.3" font-size="5.6" text-anchor="middle" fill="#1a1a1a" font-weight="bold" >7000</text>
<line x1="540.9" y1="434.6" x2="540.9" y2="432.1" stroke="#858585" stroke-width="1" />
<text x="540.9" y="442.3" font-size="5.6" text-anchor="middle" fill="#1a1a1a" font-weight="bold" >8000</text>
<line x1="239.4" y1="434.6" x2="239.4" y2="433.1" stroke="#858585" stroke-width="1" />
<line x1="279.6" y1="434.6" x2="279.6" y2="433.1" stroke="#858585" stroke-width="1" />
<line x1="319.8" y1="434.6" x2="319.8" y2="433.1" stroke="#858585" stroke-width="1" />
<line x1="360" y1="434.6" x2="360" y2="433.1" stroke="#858585" stroke-width="1" />
<line x1="400.2" y1="434.6" x2="400.2" y2="433.1" stroke="#858585" stroke-width="1" />
<line x1="440.4" y1="434.6" x2="440.4" y2="433.1" stroke="#858585" stroke-width="1" />
<line x1="480.6" y1="434.6" x2="480.6" y2="433.1" stroke="#858585" stroke-width="1" />
<line x1="520.8" y1="434.6" x2="520.8" y2="433.1" stroke="#858585" stroke-width="1" />
<text x="190.2" y="315.6" font-size="7.9" text-anchor="start" fill="#1a1a1a" font-weight="bold" >(g)</text>
<g transform="translate(199.2,366) rotate(-90)"><polygon points="-12.45,0.5 -6.65,0.5 -9.55,-5.6" fill="none" stroke="#333" stroke-width="0.8"/><text x="-5.65" y="0" font-size="7.9" font-weight="bold" fill="#1a1a1a" textLength="15.4" lengthAdjust="spacingAndGlyphs">R/R</text><text x="9.95" y="2.3" font-size="4.9" font-weight="bold" fill="#1a1a1a">0</text></g>
<text x="377.2" y="451.6" font-size="8.7" text-anchor="middle" fill="#1a1a1a" font-weight="bold" >Time(s)</text>
<rect x="395.1" y="361.5" width="1" height="6" fill="#a67a16"/>
<rect x="503" y="366" width="1" height="6" fill="#a67a16"/>
<rect x="257.9" y="355.8" width="1" height="6" fill="#a67a16"/>
<rect x="283.2" y="358.8" width="1" height="6" fill="#a67a16"/>
<rect x="348.5" y="358.5" width="1" height="6" fill="#a67a16"/>
<path d="M219.1,410 L219.3,349.31 L219.9,350.83 L220.5,351.18 L221.1,351.17 L221.7,352.95 L222.3,352.16 L222.9,353.58 L223.5,352.87 L224.1,353.9 L224.7,354.08 L225.3,353.36 L225.9,354.47 L226.5,353.19 L227.1,353.55 L227.7,354.26 L228.3,354.03 L228.9,354.55 L229.5,355.05 L230.1,355.5 L230.7,355.54 L231.3,354.58 L231.9,356.17 L232.5,356.32 L233.1,355.64 L233.7,356.23 L234.3,355.2 L234.9,355.49 L235.5,355.38 L236.1,355.67 L236.7,356.19 L237.3,357.31 L237.9,355.95 L238.5,356.44 L239.1,356.08 L239.7,357.92 L240.3,356.99 L240.9,356.32 L241.5,356.74 L242.1,356.62 L242.7,358.29 L243.3,356.77 L243.9,356.61 L244.5,358.6 L245.1,358.11 L245.7,357.53 L246.3,358.41 L246.9,358.48 L247.5,357.43 L248.1,359 L248.7,358.69 L249.3,358.61 L249.9,358.21 L250.5,357.27 L251.1,357.81 L251.7,358.67 L252.3,358.2 L252.9,359.3 L253.5,358.07 L254.1,357.8 L254.7,357.75 L255.3,359.13 L255.9,358.26 L256.5,358.71 L257.1,358.03 L257.7,357.89 L258.3,357.14 L258.9,357.85 L259.5,358.02 L260.1,357.41 L260.7,358.75 L261.3,357.47 L261.9,357.71 L262.5,359.3 L263.1,359.6 L263.7,359.49 L264.3,359.46 L264.9,358.57 L265.5,359.98 L266.1,360.68 L266.7,360.67 L267.3,359.47 L267.9,359.77 L268.5,360.52 L269.1,360.41 L269.7,361.95 L270.3,361.69 L270.9,363.14 L271.5,363.44 L272.1,362.65 L272.7,361.52 L273.3,361.7 L273.9,362.73 L274.5,361.85 L275.1,361.78 L275.7,361.47 L276.3,361.8 L276.9,361.18 L277.5,360.51 L278.1,360.89 L278.7,361.32 L279.3,360.63 L279.9,360.7 L280.5,361.03 L281.1,360.68 L281.7,361.46 L282.3,361.31 L282.9,360.05 L283.5,361.39 L284.1,359.76 L284.7,360.36 L285.3,359.96 L285.9,360.82 L286.5,361.28 L287.1,360.93 L287.7,359.8 L288.3,361.46 L288.9,361.43 L289.5,360.49 L290.1,361.17 L290.7,360.35 L291.3,360.13 L291.9,360.05 L292.5,359.4 L293.1,360.2 L293.7,359.92 L294.3,360.23 L294.9,361.12 L295.5,361.04 L296.1,359.58 L296.7,360.56 L297.3,359.22 L297.9,360.74 L298.5,359.39 L299.1,360.67 L299.7,360.19 L300.3,358.86 L300.9,359.56 L301.5,360.55 L302.1,360.25 L302.7,360.33 L303.3,360.33 L303.9,359.27 L304.5,360.45 L305.1,358.85 L305.7,359.07 L306.3,358.92 L306.9,359.01 L307.5,359.22 L308.1,359.2 L308.7,358.98 L309.3,358.67 L309.9,358.67 L310.5,359.76 L311.1,359.61 L311.7,358.89 L312.3,359.55 L312.9,360.36 L313.5,359.71 L314.1,360.66 L314.7,360.37 L315.3,359.98 L315.9,359.4 L316.5,358.96 L317.1,360.17 L317.7,358.99 L318.3,360.33 L318.9,359.96 L319.5,359.07 L320.1,359.47 L320.7,359.42 L321.3,360.42 L321.9,359.56 L322.5,360.37 L323.1,359.13 L323.7,359.17 L324.3,359.41 L324.9,359.41 L325.5,358.94 L326.1,359.22 L326.7,358.48 L327.3,358.92 L327.9,359.54 L328.5,359.82 L329.1,360.29 L329.7,359.22 L330.3,358.89 L330.9,359.91 L331.5,360.32 L332.1,359.93 L332.7,360.32 L333.3,359.77 L333.9,360.42 L334.5,360.42 L335.1,360.58 L335.7,360.21 L336.3,358.91 L336.9,359.59 L337.5,360.57 L338.1,360.18 L338.7,360.3 L339.3,358.97 L339.9,360.47 L340.5,360.06 L341.1,359.14 L341.7,359.51 L342.3,359.53 L342.9,359.4 L343.5,360.93 L344.1,359.72 L344.7,360.31 L345.3,360.16 L345.9,359.07 L346.5,359.41 L347.1,359.52 L347.7,358.95 L348.3,359.48 L348.9,360.37 L349.5,359.69 L350.1,360.29 L350.7,359.89 L351.3,360.36 L351.9,362.11 L352.5,361.33 L353.1,362.43 L353.7,361.08 L354.3,362.46 L354.9,361.74 L355.5,361.63 L356.1,360.87 L356.7,361.65 L357.3,362.11 L357.9,362.55 L358.5,360.87 L359.1,361.87 L359.7,361.57 L360.3,361.73 L360.9,362.81 L361.5,362.72 L362.1,361.54 L362.7,362.81 L363.3,362.04 L363.9,362.32 L364.5,362.78 L365.1,362.52 L365.7,361.81 L366.3,363.43 L366.9,363.67 L367.5,362.36 L368.1,362.24 L368.7,363.8 L369.3,363.53 L369.9,363.75 L370.5,363.04 L371.1,362.05 L371.7,362.87 L372.3,363.27 L372.9,362.09 L373.5,362.25 L374.1,362.69 L374.7,363.48 L375.3,362.51 L375.9,362.58 L376.5,362.74 L377.1,362.26 L377.7,363.72 L378.3,362.34 L378.9,363.88 L379.5,362.16 L380.1,362.08 L380.7,362.1 L381.3,362.47 L381.9,363.78 L382.5,362.89 L383.1,363.17 L383.7,362.87 L384.3,362.83 L384.9,362.62 L385.5,363.72 L386.1,362.99 L386.7,363.16 L387.3,363.66 L387.9,364.57 L388.5,363.02 L389.1,364.5 L389.7,364.14 L390.3,363.29 L390.9,365.24 L391.5,365.19 L392.1,364.06 L392.7,363.95 L393.3,365.08 L393.9,365.25 L394.5,365.42 L395.1,365.08 L395.7,365.63 L396.3,365.98 L396.9,364.82 L397.5,364.78 L398.1,365.73 L398.7,364.53 L399.3,365.6 L399.9,364.91 L400.5,364.51 L401.1,365.42 L401.7,365.79 L402.3,365.42 L402.9,364.91 L403.5,365.75 L404.1,364.3 L404.7,365.51 L405.3,364.58 L405.9,365.82 L406.5,363.95 L407.1,364.64 L407.7,364.14 L408.3,365.18 L408.9,364.09 L409.5,364.32 L410.1,364.21 L410.7,365.35 L411.3,365.84 L411.9,364.44 L412.5,365.04 L413.1,366.26 L413.7,365.31 L414.3,366.64 L414.9,364.95 L415.5,365.79 L416.1,366.9 L416.7,367.25 L417.3,366.01 L417.9,367.28 L418.5,365.5 L419.1,366.22 L419.7,366.14 L420.3,365.49 L420.9,366.2 L421.5,365.75 L422.1,365.92 L422.7,367.14 L423.3,366.36 L423.9,366.44 L424.5,367.32 L425.1,366.2 L425.7,365.52 L426.3,367.07 L426.9,365.52 L427.5,365.55 L428.1,365.93 L428.7,367.2 L429.3,365.94 L429.9,366.62 L430.5,366.81 L431.1,365.93 L431.7,366.88 L432.3,366.64 L432.9,365.43 L433.5,366.34 L434.1,367.31 L434.7,365.94 L435.3,366.46 L435.9,365.89 L436.5,367.05 L437.1,367.18 L437.7,366.35 L438.3,366.48 L438.9,365.99 L439.5,367.4 L440.1,366.09 L440.7,367.14 L441.3,368.06 L441.9,368.14 L442.5,366.39 L443.1,367.28 L443.7,367.24 L444.3,367.25 L444.9,367.83 L445.5,368.24 L446.1,366.86 L446.7,367.27 L447.3,367.49 L447.9,367.2 L448.5,367.35 L449.1,368.68 L449.7,367.61 L450.3,368.97 L450.9,367.48 L451.5,368.35 L452.1,367.26 L452.7,368.7 L453.3,368.9 L453.9,367.66 L454.5,367.45 L455.1,368.23 L455.7,367.8 L456.3,367.94 L456.9,368.59 L457.5,367.23 L458.1,368.25 L458.7,367.74 L459.3,367.39 L459.9,368.16 L460.5,367.35 L461.1,367.57 L461.7,367.25 L462.3,367.26 L462.9,367.92 L463.5,366.99 L464.1,367.87 L464.7,366.92 L465.3,368.11 L465.9,367.28 L466.5,368.61 L467.1,367.83 L467.7,367.53 L468.3,368.7 L468.9,367.1 L469.5,367.12 L470.1,368.52 L470.7,368.37 L471.3,368.52 L471.9,367.1 L472.5,367.9 L473.1,368.66 L473.7,368.12 L474.3,367.94 L474.9,367.56 L475.5,368.91 L476.1,368.12 L476.7,369.17 L477.3,367.6 L477.9,369.41 L478.5,367.7 L479.1,368.49 L479.7,369.09 L480.3,368.29 L480.9,368.53 L481.5,369.89 L482.1,368.66 L482.7,369.18 L483.3,369.21 L483.9,368.98 L484.5,370.29 L485.1,369.6 L485.7,368.49 L486.3,368.55 L486.9,369.28 L487.5,368.64 L488.1,369.03 L488.7,369.02 L489.3,368.41 L489.9,368.63 L490.5,367.73 L491.1,368.72 L491.7,367.46 L492.3,367.3 L492.9,367.95 L493.5,368 L494.1,367.25 L494.7,367.39 L495.3,368.85 L495.9,367.49 L496.5,368.22 L497.1,367.82 L497.7,369.63 L498.3,369.34 L498.9,369.74 L499.5,369.75 L500.1,368.23 L500.7,369.83 L501.3,368.73 L501.9,368.42 L502.5,368.72 L503.1,368.52 L503.7,370.13 L504.3,368.88 L504.9,369.04 L505.5,368.81 L506.1,370.36 L506.7,370.3 L507.3,370.1 L507.9,369.59 L508.5,369.25 L509.1,369.63 L509.7,370.27 L510.3,370.47 L510.9,369.26 L511.5,368.99 L512.1,369.61 L512.7,370 L513.3,368.84 L513.9,368.61 L514.5,369.07 L515.1,370.58 L515.7,369.99 L516.3,368.73 L516.9,369.09 L517.5,369.73 L518.1,370.73 L518.7,369.47 L519.3,369.14 L519.9,369.88 L520.5,369.96 L521.1,370.49 L521.7,369.81 L522.3,370.43 L522.9,371.44 L523.5,369.94 L524.1,371.01 L524.7,371.38 L525.3,370.43 L525.9,371.28 L526.5,370.77 L527.1,371.04 L527.7,371.7 L528.3,372.12 L528.9,371.45 L529.5,370.95 L530.1,372.11 L530.7,371.73 L531.3,370.99 L531.9,372 L532.5,372.15 L533.1,371.29 L533.7,371.61 L534.3,372.85 L534.9,372.57 L535.5,372.89 L536.1,372.21 L536.7,372.25 L537.3,371.62 L537.9,371.54 L538.5,373.02 L539.1,373.26 L539.7,372.16 L540.3,372.55 L540.3,429.28 L539.7,429.03 L539.1,429.17 L538.5,429.13 L537.9,428.75 L537.3,428.63 L536.7,428.6 L536.1,429.1 L535.5,429.09 L534.9,428.33 L534.3,429.08 L533.7,428.33 L533.1,428.57 L532.5,429.05 L531.9,428.72 L531.3,428.38 L530.7,429.1 L530.1,428.14 L529.5,428.15 L528.9,428.48 L528.3,428.09 L527.7,428.27 L527.1,428.94 L526.5,428.62 L525.9,428.52 L525.3,427.94 L524.7,428.31 L524.1,428.75 L523.5,427.95 L522.9,428.07 L522.3,427.93 L521.7,428.39 L521.1,428.33 L520.5,427.93 L519.9,427.78 L519.3,427.65 L518.7,428.26 L518.1,427.71 L517.5,428.05 L516.9,428.11 L516.3,427.49 L515.7,427.73 L515.1,427.96 L514.5,427.97 L513.9,428.1 L513.3,427.98 L512.7,427.63 L512.1,427.49 L511.5,428.07 L510.9,427.82 L510.3,427.6 L509.7,427.01 L509.1,427.43 L508.5,427.66 L507.9,427.36 L507.3,426.78 L506.7,426.77 L506.1,427.22 L505.5,426.63 L504.9,426.44 L504.3,426.84 L503.7,426.48 L503.1,426.71 L502.5,426.95 L501.9,426.96 L501.3,426.76 L500.7,426 L500.1,426.65 L499.5,426.72 L498.9,426.22 L498.3,425.86 L497.7,426.33 L497.1,426.38 L496.5,426.4 L495.9,425.88 L495.3,425.81 L494.7,425.95 L494.1,425.78 L493.5,425.57 L492.9,425.07 L492.3,425.03 L491.7,425.29 L491.1,425.2 L490.5,425.42 L489.9,425.07 L489.3,424.53 L488.7,424.88 L488.1,424.79 L487.5,424.71 L486.9,424.85 L486.3,424.76 L485.7,424.94 L485.1,424.81 L484.5,424.04 L483.9,424.67 L483.3,424.03 L482.7,424.39 L482.1,424.06 L481.5,424.64 L480.9,424.19 L480.3,424.56 L479.7,424.58 L479.1,424.65 L478.5,424.66 L477.9,424.22 L477.3,424.67 L476.7,423.93 L476.1,424.53 L475.5,423.84 L474.9,424.25 L474.3,423.88 L473.7,424.11 L473.1,423.83 L472.5,424.39 L471.9,423.76 L471.3,424.21 L470.7,424.15 L470.1,424.17 L469.5,423.74 L468.9,424.46 L468.3,424.08 L467.7,424.56 L467.1,424.04 L466.5,423.97 L465.9,423.95 L465.3,424.03 L464.7,423.76 L464.1,424.21 L463.5,423.94 L462.9,423.58 L462.3,424.28 L461.7,423.77 L461.1,424.11 L460.5,423.41 L459.9,424.02 L459.3,423.59 L458.7,423.45 L458.1,423.5 L457.5,423.84 L456.9,424.16 L456.3,423.45 L455.7,424.02 L455.1,424.06 L454.5,424.07 L453.9,423.19 L453.3,423.08 L452.7,423.86 L452.1,423.47 L451.5,423.96 L450.9,423.75 L450.3,423.43 L449.7,423.29 L449.1,423.45 L448.5,423.01 L447.9,423.08 L447.3,423.55 L446.7,423.36 L446.1,423.61 L445.5,423.41 L444.9,423.47 L444.3,423.32 L443.7,422.92 L443.1,423.37 L442.5,422.73 L441.9,422.88 L441.3,423.48 L440.7,422.9 L440.1,422.58 L439.5,422.77 L438.9,422.69 L438.3,423.25 L437.7,422.76 L437.1,423.02 L436.5,423.21 L435.9,423.16 L435.3,423.25 L434.7,422.72 L434.1,422.65 L433.5,423.18 L432.9,422.43 L432.3,423.1 L431.7,423.04 L431.1,422.09 L430.5,422.37 L429.9,422.28 L429.3,422.94 L428.7,422.28 L428.1,422.65 L427.5,422.79 L426.9,421.87 L426.3,422.56 L425.7,422.17 L425.1,422.62 L424.5,421.88 L423.9,422.02 L423.3,421.66 L422.7,422.4 L422.1,421.9 L421.5,422.47 L420.9,422.43 L420.3,421.72 L419.7,421.57 L419.1,421.74 L418.5,422 L417.9,422.05 L417.3,421.45 L416.7,422.17 L416.1,421.93 L415.5,422.06 L414.9,421.19 L414.3,421.24 L413.7,421.28 L413.1,421.18 L412.5,421.66 L411.9,421.19 L411.3,421.42 L410.7,421.19 L410.1,421.08 L409.5,421.64 L408.9,421.76 L408.3,421.26 L407.7,421.51 L407.1,421.36 L406.5,420.98 L405.9,420.83 L405.3,421.23 L404.7,420.93 L404.1,420.96 L403.5,420.72 L402.9,421.32 L402.3,420.54 L401.7,421.13 L401.1,421.15 L400.5,420.43 L399.9,420.67 L399.3,420.4 L398.7,420.48 L398.1,420.01 L397.5,420.48 L396.9,419.92 L396.3,420.39 L395.7,419.93 L395.1,419.69 L394.5,420.07 L393.9,420.23 L393.3,420.49 L392.7,420.05 L392.1,419.62 L391.5,420.47 L390.9,420.32 L390.3,419.89 L389.7,420.11 L389.1,420.45 L388.5,419.62 L387.9,420.51 L387.3,420.65 L386.7,420.16 L386.1,420.11 L385.5,420.78 L384.9,420.5 L384.3,421.05 L383.7,420.23 L383.1,420.63 L382.5,420.75 L381.9,421.17 L381.3,421.07 L380.7,420.82 L380.1,420.99 L379.5,420.91 L378.9,421.23 L378.3,421.73 L377.7,421.36 L377.1,421.1 L376.5,421.09 L375.9,421.49 L375.3,421.59 L374.7,421.92 L374.1,421.23 L373.5,421.39 L372.9,421.83 L372.3,421.17 L371.7,421.61 L371.1,421.56 L370.5,421.52 L369.9,421.71 L369.3,421.36 L368.7,421.58 L368.1,421.04 L367.5,421.14 L366.9,420.84 L366.3,420.85 L365.7,420.63 L365.1,420.78 L364.5,420.84 L363.9,421.46 L363.3,420.81 L362.7,421.31 L362.1,421.3 L361.5,421.19 L360.9,420.32 L360.3,420.6 L359.7,420.4 L359.1,420.67 L358.5,420.19 L357.9,420.64 L357.3,420.36 L356.7,420.98 L356.1,420.89 L355.5,420.99 L354.9,420.16 L354.3,420.2 L353.7,420.18 L353.1,420.4 L352.5,420.75 L351.9,419.94 L351.3,420.89 L350.7,420.8 L350.1,420.37 L349.5,420.42 L348.9,420.59 L348.3,420.6 L347.7,420.01 L347.1,420.54 L346.5,420.74 L345.9,420.18 L345.3,420.71 L344.7,420.88 L344.1,420.63 L343.5,420.68 L342.9,420.97 L342.3,421 L341.7,420.38 L341.1,421.08 L340.5,421.04 L339.9,420.92 L339.3,421.24 L338.7,420.96 L338.1,421.12 L337.5,421.07 L336.9,420.62 L336.3,420.65 L335.7,420.75 L335.1,421.19 L334.5,421.07 L333.9,421.26 L333.3,420.92 L332.7,420.52 L332.1,421.07 L331.5,421.17 L330.9,420.27 L330.3,420.89 L329.7,421.09 L329.1,420.42 L328.5,420.68 L327.9,420.64 L327.3,420.4 L326.7,420.05 L326.1,419.71 L325.5,419.69 L324.9,419.53 L324.3,419.65 L323.7,419.85 L323.1,419.31 L322.5,419.55 L321.9,419.42 L321.3,420.09 L320.7,419.32 L320.1,419.17 L319.5,419.25 L318.9,419.19 L318.3,419.74 L317.7,418.9 L317.1,419.03 L316.5,418.8 L315.9,418.74 L315.3,419.05 L314.7,419.31 L314.1,418.9 L313.5,419.21 L312.9,418.87 L312.3,418.94 L311.7,419.23 L311.1,419.31 L310.5,418.53 L309.9,419.04 L309.3,418.53 L308.7,418.59 L308.1,418.72 L307.5,418.95 L306.9,418.48 L306.3,418.19 L305.7,418.23 L305.1,418.63 L304.5,418.35 L303.9,418.63 L303.3,418.52 L302.7,418.12 L302.1,418.14 L301.5,418.69 L300.9,418.12 L300.3,418.74 L299.7,418.15 L299.1,418.63 L298.5,418.22 L297.9,418.9 L297.3,418.51 L296.7,418.36 L296.1,418.14 L295.5,418.21 L294.9,418.9 L294.3,418.18 L293.7,418.75 L293.1,418.14 L292.5,418.68 L291.9,418.84 L291.3,418.31 L290.7,418.63 L290.1,418.26 L289.5,419.08 L288.9,418.48 L288.3,418.29 L287.7,418.94 L287.1,418.7 L286.5,418.18 L285.9,418.8 L285.3,418.07 L284.7,418.05 L284.1,418.09 L283.5,418.79 L282.9,418.49 L282.3,418.85 L281.7,418.58 L281.1,418.34 L280.5,418.29 L279.9,418.32 L279.3,418.39 L278.7,418.66 L278.1,418.27 L277.5,418.45 L276.9,417.89 L276.3,417.7 L275.7,418.11 L275.1,417.83 L274.5,418.18 L273.9,417.57 L273.3,417.34 L272.7,417.71 L272.1,417.72 L271.5,417.62 L270.9,417.46 L270.3,417.54 L269.7,417.22 L269.1,416.91 L268.5,416.95 L267.9,416.84 L267.3,416.77 L266.7,417.25 L266.1,416.77 L265.5,416.78 L264.9,417.15 L264.3,416.23 L263.7,416.37 L263.1,416.94 L262.5,416.04 L261.9,416.74 L261.3,415.91 L260.7,416.47 L260.1,416.11 L259.5,416.65 L258.9,415.99 L258.3,415.82 L257.7,416.39 L257.1,416.55 L256.5,415.73 L255.9,416.31 L255.3,416.51 L254.7,416.31 L254.1,415.9 L253.5,415.95 L252.9,416.71 L252.3,416.72 L251.7,416.77 L251.1,416.1 L250.5,415.89 L249.9,416.25 L249.3,416.14 L248.7,416.76 L248.1,416.81 L247.5,416.79 L246.9,416.32 L246.3,416.53 L245.7,416.17 L245.1,416.26 L244.5,416.86 L243.9,416.52 L243.3,416.53 L242.7,416.5 L242.1,415.99 L241.5,416.79 L240.9,416.29 L240.3,416.03 L239.7,416.39 L239.1,416.76 L238.5,416.26 L237.9,416.13 L237.3,416.48 L236.7,415.87 L236.1,415.92 L235.5,415.79 L234.9,416.1 L234.3,415.94 L233.7,415.76 L233.1,415.76 L232.5,416.01 L231.9,416.44 L231.3,416.42 L230.7,416.14 L230.1,415.93 L229.5,416.25 L228.9,415.52 L228.3,414.99 L227.7,415.41 L227.1,414.86 L226.5,414.61 L225.9,415.19 L225.3,414.38 L224.7,414.08 L224.1,414.4 L223.5,413.91 L222.9,413.23 L222.3,413.22 L221.7,412.42 L221.1,411.79 L220.5,411.32 L219.9,410.59 L219.3,410.39 Z" fill="#a67a16"/>
<line x1="280.5" y1="356" x2="280.5" y2="362" stroke="#d8c89a" stroke-width="0.7" />
<line x1="333.6" y1="360.5" x2="333.6" y2="367.9" stroke="#d8c89a" stroke-width="0.7" />
<line x1="457.8" y1="366" x2="457.8" y2="381.9" stroke="#d8c89a" stroke-width="0.7" />
<line x1="536.2" y1="373" x2="536.2" y2="388.5" stroke="#d8c89a" stroke-width="0.7" />
<rect x="516.5" y="362.9" width="2.8" height="69.4" fill="rgba(230,210,210,0.55)" stroke="#e8b8c0" stroke-width="0.6" />
<line x1="227.7" y1="323.4" x2="247.7" y2="323.4" stroke="#d4cc90" stroke-width="1" />
<text x="248.2" y="325.6" font-size="7.4" text-anchor="start" fill="#1a1a1a" font-weight="bold" >4%</text>
<rect x="363.6" y="315.6" width="159.1" height="36" fill="white" stroke="#858585" stroke-width="0.7" />
<path d="M365.3,319.7 L367.3,346.9 L368.3,345 L369.5,341.2 L370.3,349.1 L370.7,348 L373.37,319.7 L375.37,346.9 L376.37,345 L377.57,341.2 L378.37,349.1 L378.77,348 L381.44,319.7 L383.44,346.9 L384.44,345 L385.64,341.2 L386.44,349.1 L386.84,348 L389.51,319.7 L391.51,346.9 L392.51,345 L393.71,341.2 L394.51,349.1 L394.91,348 L397.58,319.7 L399.58,346.9 L400.58,345 L401.78,341.2 L402.58,349.1 L402.98,348 L405.65,319.7 L407.65,346.9 L408.65,345 L409.85,341.2 L410.65,349.1 L411.05,348 L413.72,319.7 L415.72,346.9 L416.72,345 L417.92,341.2 L418.72,349.1 L419.12,348 L421.79,319.7 L423.79,346.9 L424.79,345 L425.99,341.2 L426.79,349.1 L427.19,348 L429.86,319.7 L431.86,346.9 L432.86,345 L434.06,341.2 L434.86,349.1 L435.26,348 L437.93,319.7 L439.93,346.9 L440.93,345 L442.13,341.2 L442.93,349.1 L443.33,348 L446,319.7 L448,346.9 L449,345 L450.2,341.2 L451,349.1 L451.4,348 L454.07,319.7 L456.07,346.9 L457.07,345 L458.27,341.2 L459.07,349.1 L459.47,348 L462.14,319.7 L464.14,346.9 L465.14,345 L466.34,341.2 L467.14,349.1 L467.54,348 L470.21,319.7 L472.21,346.9 L473.21,345 L474.41,341.2 L475.21,349.1 L475.61,348 L478.28,319.7 L480.28,346.9 L481.28,345 L482.48,341.2 L483.28,349.1 L483.68,348 L486.35,319.7 L488.35,346.9 L489.35,345 L490.55,341.2 L491.35,349.1 L491.75,348 L494.42,319.7 L496.42,346.9 L497.42,345 L498.62,341.2 L499.42,349.1 L499.82,348 L502.49,319.7 L504.49,346.9 L505.49,345 L506.69,341.2 L507.49,349.1 L507.89,348 L510.56,319.7 L512.56,346.9 L513.56,345 L514.76,341.2 L515.56,349.1 L515.96,348 L518.63,319.7 L520.63,346.9 L521.63,345" stroke="#c89a3a" stroke-width="0.8" fill="none" stroke-linejoin="round" />
<text x="361.9" y="318.3" font-size="3.0" text-anchor="end" fill="#1a1a1a" font-weight="bold" >0.9</text>
<line x1="363.6" y1="317.3" x2="364.6" y2="317.3" stroke="#858585" stroke-width="0.5" />
<text x="361.9" y="326.1" font-size="3.0" text-anchor="end" fill="#1a1a1a" font-weight="bold" >0.6</text>
<line x1="363.6" y1="325.1" x2="364.6" y2="325.1" stroke="#858585" stroke-width="0.5" />
<text x="361.9" y="333.7" font-size="3.0" text-anchor="end" fill="#1a1a1a" font-weight="bold" >0.3</text>
<line x1="363.6" y1="332.7" x2="364.6" y2="332.7" stroke="#858585" stroke-width="0.5" />
<text x="361.9" y="341.5" font-size="3.0" text-anchor="end" fill="#1a1a1a" font-weight="bold" >0.0</text>
<line x1="363.6" y1="340.5" x2="364.6" y2="340.5" stroke="#858585" stroke-width="0.5" />
<text x="361.9" y="349.2" font-size="3.0" text-anchor="end" fill="#1a1a1a" font-weight="bold" >-0.3</text>
<line x1="363.6" y1="348.2" x2="364.6" y2="348.2" stroke="#858585" stroke-width="0.5" />
<text x="364.3" y="355.3" font-size="3.0" text-anchor="middle" fill="#1a1a1a" font-weight="bold" >7400</text>
<text x="403.9" y="355.3" font-size="3.0" text-anchor="middle" fill="#1a1a1a" font-weight="bold" >7420</text>
<text x="443.6" y="355.3" font-size="3.0" text-anchor="middle" fill="#1a1a1a" font-weight="bold" >7440</text>
<text x="483.3" y="355.3" font-size="3.0" text-anchor="middle" fill="#1a1a1a" font-weight="bold" >7460</text>
<text x="522.7" y="355.3" font-size="3.0" text-anchor="middle" fill="#1a1a1a" font-weight="bold" >7480</text>
<text x="442.7" y="359.6" font-size="3.3" text-anchor="middle" fill="#1a1a1a" font-weight="bold" >Time(s)</text>
<text transform="translate(356.6,334.5) rotate(-90)" font-size="3.2" text-anchor="middle" font-weight="bold" fill="#1a1a1a">&#916;R/R<tspan font-size="2.2" dy="0.8">0</tspan></text>
<line x1="518.2" y1="363.5" x2="472" y2="354.1" stroke="#222222" stroke-width="0.7" />
<polygon points="469.5,353.6 474.5,352.4 473.6,356.0" fill="#222222"/>
</svg></body></html>
